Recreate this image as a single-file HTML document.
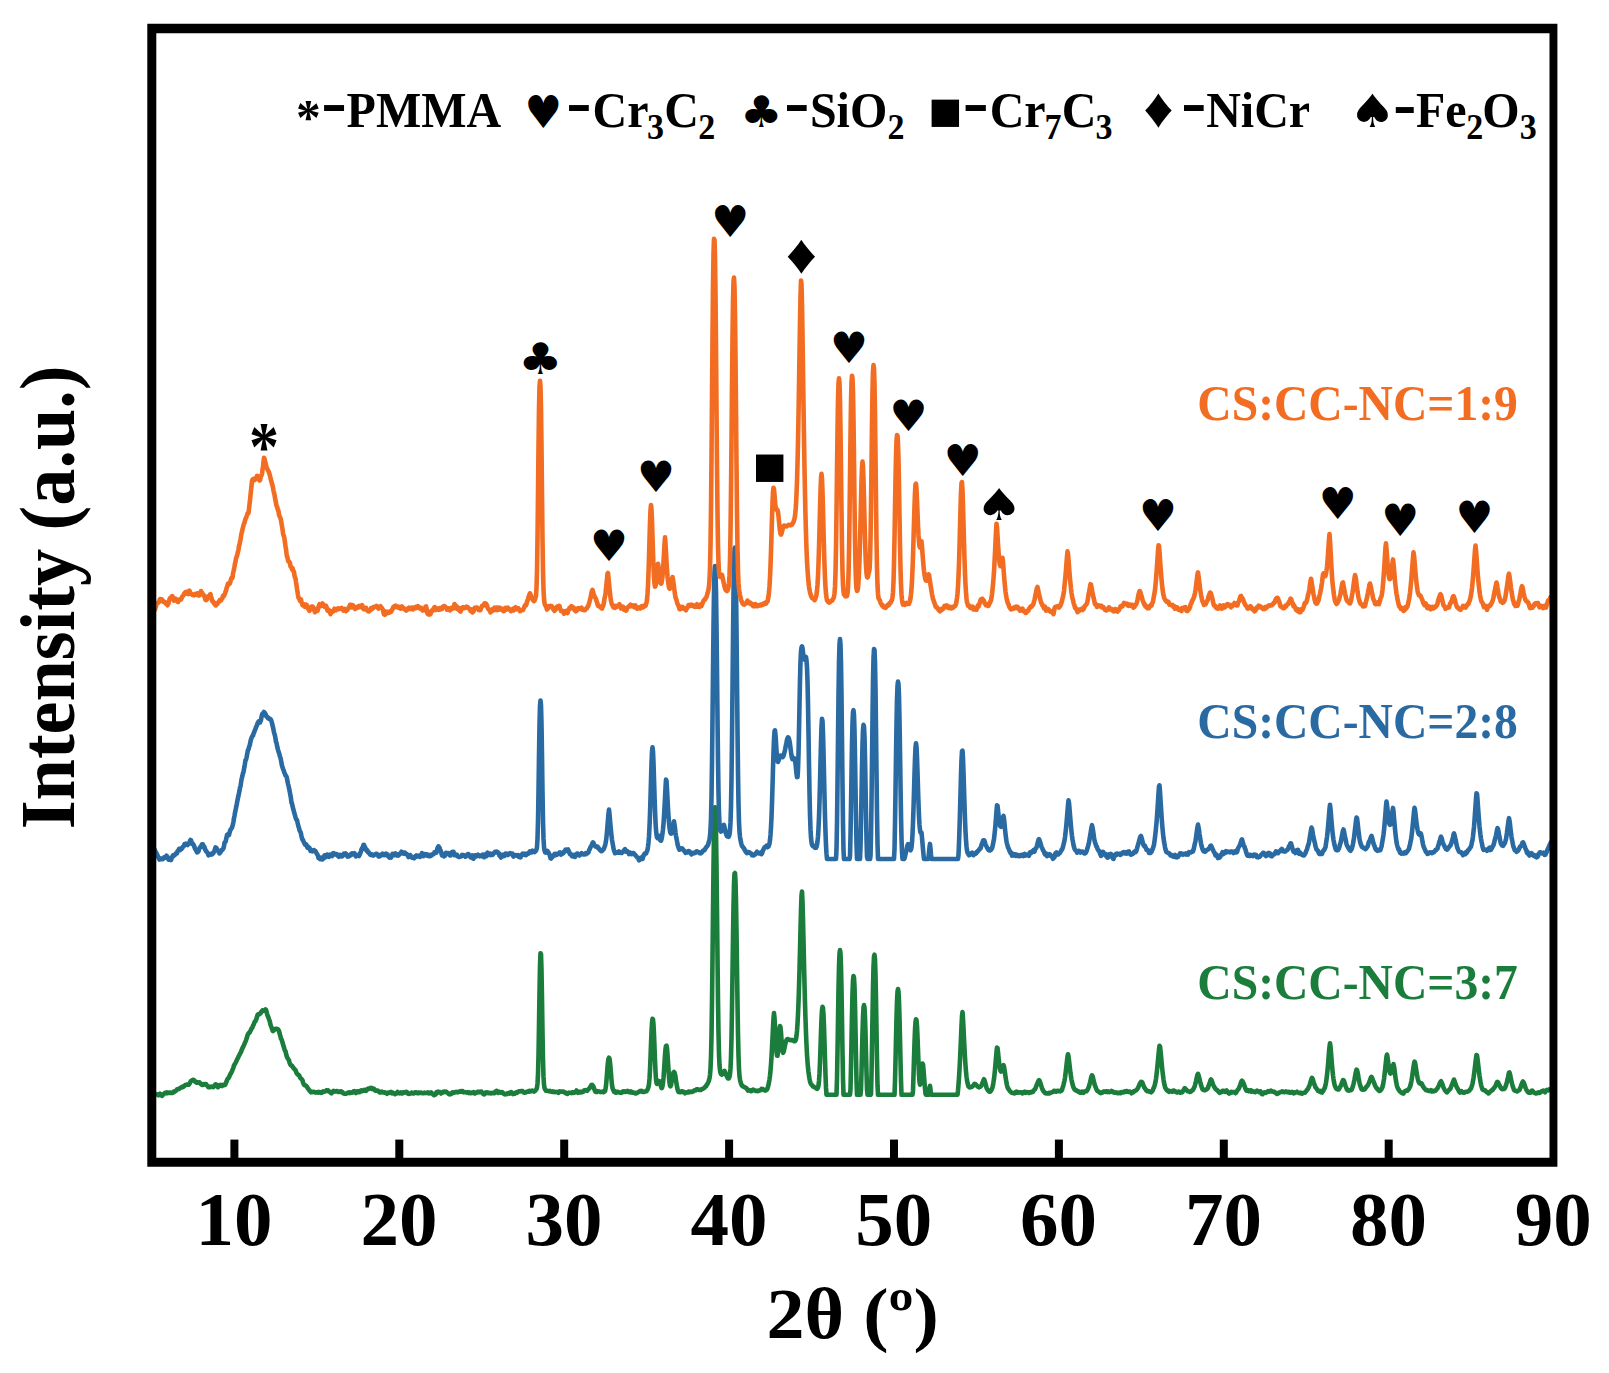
<!DOCTYPE html>
<html lang="en"><head><meta charset="utf-8"><title>XRD patterns</title>
<style>html,body{margin:0;padding:0;background:#fff}svg{display:block}text{font-family:"Liberation Serif","DejaVu Serif",serif;font-weight:bold}.dj{font-family:"DejaVu Sans",sans-serif;font-weight:normal}</style></head><body>
<svg width="1609" height="1373" viewBox="0 0 1609 1373">
<rect width="1609" height="1373" fill="#fff"/>
<path d="M152.0,1093.1 152.5,1092.9 153.0,1092.6 153.5,1092.9 154.0,1092.9 154.5,1093.4 155.0,1093.6 155.5,1094.2 156.0,1094.1 156.5,1094.3 157.0,1094.5 157.5,1094.6 158.0,1094.6 158.5,1095.2 159.0,1094.2 159.5,1094.4 160.0,1093.8 160.5,1094.6 161.0,1095.0 161.5,1095.1 162.0,1095.8 162.5,1095.4 163.0,1094.6 163.5,1094.4 164.0,1093.7 164.5,1093.6 165.0,1092.9 165.5,1092.9 166.0,1092.9 166.5,1092.5 167.0,1093.2 167.5,1092.8 168.0,1092.6 168.5,1092.9 169.0,1092.8 169.5,1092.5 170.0,1092.9 170.5,1092.5 171.0,1092.5 171.5,1092.9 172.0,1093.0 172.5,1092.6 173.0,1092.7 173.5,1092.0 174.0,1091.5 174.5,1091.4 175.0,1091.6 175.5,1090.8 176.0,1090.6 176.5,1090.2 177.0,1089.4 177.5,1089.4 178.0,1089.2 178.5,1088.8 179.0,1088.9 179.5,1088.5 180.0,1088.1 180.5,1087.9 181.0,1087.4 181.5,1087.1 182.0,1087.4 182.5,1086.6 183.0,1086.7 183.5,1086.9 184.0,1086.1 184.5,1085.9 185.0,1085.3 185.5,1085.0 186.0,1084.8 186.5,1084.6 187.0,1084.8 187.5,1084.6 188.0,1084.7 188.5,1084.8 189.0,1084.3 189.5,1083.7 190.0,1082.7 190.5,1081.6 191.0,1081.0 191.5,1080.7 192.0,1080.3 192.5,1080.2 193.0,1079.9 193.5,1079.7 194.0,1080.1 194.5,1080.7 195.0,1081.6 195.5,1081.9 196.0,1082.4 196.5,1082.6 197.0,1082.1 197.5,1082.6 198.0,1082.3 198.5,1082.6 199.0,1082.6 199.5,1082.3 200.0,1083.0 200.5,1083.6 201.0,1084.2 201.5,1084.7 202.0,1084.9 202.5,1084.4 203.0,1084.1 203.5,1084.9 204.0,1084.5 204.5,1084.2 205.0,1084.5 205.5,1084.0 206.0,1084.0 206.5,1084.8 207.0,1085.3 207.5,1086.1 208.0,1086.7 208.5,1087.1 209.0,1086.7 209.5,1087.2 210.0,1086.7 210.5,1086.7 211.0,1086.9 211.5,1086.5 212.0,1086.8 212.5,1087.0 213.0,1086.6 213.5,1087.0 214.0,1086.4 214.5,1085.6 215.0,1084.9 215.5,1084.3 216.0,1084.4 216.5,1084.7 217.0,1085.6 217.5,1086.4 218.0,1087.2 218.5,1086.8 219.0,1085.9 219.5,1085.6 220.0,1085.0 220.5,1084.9 221.0,1085.7 221.5,1085.8 222.0,1086.0 222.5,1085.4 223.0,1084.9 223.5,1085.0 224.0,1085.2 224.5,1085.1 225.0,1084.9 225.5,1084.2 226.0,1082.9 226.5,1081.4 227.0,1080.4 227.5,1079.2 228.0,1078.2 228.5,1078.1 229.0,1077.2 229.5,1076.1 230.0,1075.0 230.5,1073.7 231.0,1073.3 231.5,1072.0 232.0,1071.3 232.5,1069.7 233.0,1068.6 233.5,1067.3 234.0,1065.3 234.5,1064.7 235.0,1063.7 235.5,1062.9 236.0,1062.0 236.5,1060.8 237.0,1059.6 237.5,1058.7 238.0,1058.0 238.5,1056.5 239.0,1055.9 239.5,1054.7 240.0,1053.7 240.5,1052.9 241.0,1051.9 241.5,1050.4 242.0,1049.4 242.5,1048.2 243.0,1046.8 243.5,1046.3 244.0,1044.9 244.5,1044.0 245.0,1042.6 245.5,1041.5 246.0,1040.3 246.5,1038.7 247.0,1037.4 247.5,1035.3 248.0,1034.1 248.5,1033.6 249.0,1032.8 249.5,1032.8 250.0,1031.7 250.5,1030.7 251.0,1029.6 251.5,1028.6 252.0,1028.1 252.5,1027.2 253.0,1025.6 253.5,1024.9 254.0,1023.6 254.5,1022.3 255.0,1021.2 255.5,1021.1 256.0,1019.9 256.5,1018.6 257.0,1017.0 257.5,1015.2 258.0,1014.3 258.5,1014.1 259.0,1014.4 259.5,1014.2 260.0,1013.9 260.5,1013.3 261.0,1012.5 261.5,1011.5 262.0,1011.3 262.5,1010.5 263.0,1010.9 263.5,1010.5 264.0,1010.4 264.5,1010.1 265.0,1009.8 265.5,1009.4 266.0,1009.9 266.5,1011.5 267.0,1013.6 267.5,1015.3 268.0,1016.6 268.5,1017.6 269.0,1019.5 269.5,1020.4 270.0,1022.3 270.5,1024.7 271.0,1026.1 271.5,1027.3 272.0,1028.7 272.5,1030.5 273.0,1031.0 273.5,1030.4 274.0,1030.2 274.5,1029.8 275.0,1029.0 275.5,1028.9 276.0,1028.9 276.5,1028.8 277.0,1028.9 277.5,1029.2 278.0,1029.3 278.5,1030.3 279.0,1030.8 279.5,1033.2 280.0,1034.9 280.5,1036.5 281.0,1038.6 281.5,1039.3 282.0,1040.8 282.5,1042.5 283.0,1044.3 283.5,1045.9 284.0,1047.8 284.5,1049.3 285.0,1050.6 285.5,1051.2 286.0,1053.4 286.5,1055.5 287.0,1057.1 287.5,1058.0 288.0,1058.8 288.5,1059.5 289.0,1060.4 289.5,1062.4 290.0,1063.8 290.5,1064.7 291.0,1065.5 291.5,1065.5 292.0,1065.8 292.5,1066.6 293.0,1067.2 293.5,1068.2 294.0,1068.5 294.5,1069.3 295.0,1069.7 295.5,1070.2 296.0,1071.5 296.5,1072.9 297.0,1073.6 297.5,1074.5 298.0,1074.6 298.5,1074.7 299.0,1075.3 299.5,1076.0 300.0,1077.3 300.5,1078.1 301.0,1078.6 301.5,1078.9 302.0,1079.5 302.5,1080.4 303.0,1082.3 303.5,1083.7 304.0,1084.5 304.5,1085.3 305.0,1085.3 305.5,1085.5 306.0,1085.7 306.5,1086.3 307.0,1086.6 307.5,1087.9 308.0,1088.6 308.5,1089.0 309.0,1089.8 309.5,1090.9 310.0,1090.8 310.5,1091.8 311.0,1092.4 311.5,1092.1 312.0,1092.2 312.5,1092.1 313.0,1091.8 313.5,1091.7 314.0,1091.8 314.5,1092.2 315.0,1092.4 315.5,1092.6 316.0,1092.5 316.5,1092.2 317.0,1092.4 317.5,1092.0 318.0,1092.4 318.5,1092.6 319.0,1092.0 319.5,1092.3 320.0,1092.3 320.5,1092.2 321.0,1092.8 321.5,1092.3 322.0,1092.6 322.5,1092.0 323.0,1091.5 323.5,1091.9 324.0,1091.7 324.5,1091.6 325.0,1091.4 325.5,1091.3 326.0,1091.0 326.5,1090.3 327.0,1090.2 327.5,1090.6 328.0,1090.4 328.5,1091.2 329.0,1091.5 329.5,1091.6 330.0,1092.0 330.5,1092.7 331.0,1092.8 331.5,1093.3 332.0,1092.5 332.5,1092.0 333.0,1091.3 333.5,1090.8 334.0,1091.2 334.5,1091.5 335.0,1091.6 335.5,1091.3 336.0,1091.4 336.5,1091.0 337.0,1091.0 337.5,1091.3 338.0,1091.8 338.5,1092.0 339.0,1092.0 339.5,1091.9 340.0,1092.0 340.5,1091.2 341.0,1091.2 341.5,1091.7 342.0,1091.9 342.5,1092.1 343.0,1093.1 343.5,1093.1 344.0,1093.4 344.5,1093.7 345.0,1093.8 345.5,1093.8 346.0,1093.6 346.5,1093.6 347.0,1093.3 347.5,1092.8 348.0,1092.7 348.5,1092.9 349.0,1092.3 349.5,1092.4 350.0,1093.0 350.5,1092.4 351.0,1092.7 351.5,1092.8 352.0,1092.7 352.5,1092.5 353.0,1092.0 353.5,1091.4 354.0,1091.5 354.5,1091.2 355.0,1091.8 355.5,1091.9 356.0,1093.0 356.5,1092.6 357.0,1092.0 357.5,1091.3 358.0,1091.2 358.5,1091.2 359.0,1091.6 359.5,1092.2 360.0,1091.9 360.5,1090.7 361.0,1090.4 361.5,1090.4 362.0,1090.5 362.5,1091.0 363.0,1090.6 363.5,1090.7 364.0,1090.0 364.5,1089.8 365.0,1090.6 365.5,1090.5 366.0,1090.8 366.5,1090.3 367.0,1089.7 367.5,1088.9 368.0,1088.6 368.5,1088.9 369.0,1088.5 369.5,1088.6 370.0,1088.1 370.5,1088.0 371.0,1087.9 371.5,1088.0 372.0,1089.0 372.5,1088.3 373.0,1088.7 373.5,1088.9 374.0,1088.8 374.5,1089.8 375.0,1090.5 375.5,1090.1 376.0,1090.6 376.5,1090.6 377.0,1090.7 377.5,1090.5 378.0,1090.8 378.5,1091.3 379.0,1091.7 379.5,1092.4 380.0,1092.5 380.5,1092.5 381.0,1092.0 381.5,1091.7 382.0,1092.2 382.5,1091.9 383.0,1092.2 383.5,1092.5 384.0,1092.6 384.5,1092.4 385.0,1092.4 385.5,1092.6 386.0,1093.1 386.5,1093.1 387.0,1093.7 387.5,1092.9 388.0,1092.5 388.5,1092.6 389.0,1093.0 389.5,1092.7 390.0,1092.4 390.5,1092.2 391.0,1091.9 391.5,1092.3 392.0,1093.4 392.5,1092.5 393.0,1093.1 393.5,1093.2 394.0,1093.3 394.5,1093.7 395.0,1094.1 395.5,1093.9 396.0,1093.4 396.5,1093.5 397.0,1093.3 397.5,1092.0 398.0,1092.8 398.5,1092.6 399.0,1093.1 399.5,1093.4 400.0,1093.2 400.5,1093.1 401.0,1092.5 401.5,1093.3 402.0,1093.5 402.5,1093.3 403.0,1092.8 403.5,1092.2 404.0,1092.2 404.5,1092.6 405.0,1092.4 405.5,1092.3 406.0,1091.9 406.5,1091.9 407.0,1092.1 407.5,1092.7 408.0,1093.7 408.5,1093.7 409.0,1093.9 409.5,1093.9 410.0,1093.7 410.5,1093.3 411.0,1093.1 411.5,1092.6 412.0,1092.7 412.5,1093.3 413.0,1093.3 413.5,1093.5 414.0,1093.3 414.5,1092.6 415.0,1092.2 415.5,1092.2 416.0,1092.3 416.5,1092.7 417.0,1092.9 417.5,1093.2 418.0,1093.3 418.5,1092.7 419.0,1093.1 419.5,1092.6 420.0,1092.5 420.5,1092.9 421.0,1092.6 421.5,1092.7 422.0,1093.1 422.5,1093.2 423.0,1093.3 423.5,1093.2 424.0,1093.2 424.5,1092.7 425.0,1093.0 425.5,1093.1 426.0,1093.0 426.5,1092.9 427.0,1092.7 427.5,1092.4 428.0,1093.0 428.5,1093.3 429.0,1093.4 429.5,1093.3 430.0,1092.7 430.5,1092.5 431.0,1092.4 431.5,1092.6 432.0,1093.6 432.5,1093.9 433.0,1094.4 433.5,1094.8 434.0,1095.2 434.5,1094.9 435.0,1094.3 435.5,1094.4 436.0,1094.0 436.5,1092.2 437.0,1092.5 437.5,1091.9 438.0,1091.6 438.5,1092.2 439.0,1091.8 439.5,1092.0 440.0,1092.6 440.5,1092.6 441.0,1093.5 441.5,1092.9 442.0,1092.9 442.5,1092.6 443.0,1091.9 443.5,1092.3 444.0,1092.0 444.5,1091.6 445.0,1091.5 445.5,1091.8 446.0,1092.0 446.5,1091.9 447.0,1092.5 447.5,1092.9 448.0,1093.0 448.5,1093.8 449.0,1094.1 449.5,1094.3 450.0,1094.4 450.5,1094.1 451.0,1094.0 451.5,1093.7 452.0,1092.7 452.5,1092.3 453.0,1092.3 453.5,1092.9 454.0,1092.6 454.5,1092.6 455.0,1092.1 455.5,1092.2 456.0,1091.9 456.5,1092.1 457.0,1092.2 457.5,1092.0 458.0,1092.3 458.5,1091.9 459.0,1091.9 459.5,1091.6 460.0,1091.3 460.5,1091.6 461.0,1091.1 461.5,1091.5 462.0,1091.1 462.5,1091.1 463.0,1092.1 463.5,1092.4 464.0,1092.1 464.5,1092.1 465.0,1092.2 465.5,1092.2 466.0,1092.3 466.5,1092.4 467.0,1092.6 467.5,1092.5 468.0,1092.1 468.5,1092.3 469.0,1093.1 469.5,1092.7 470.0,1093.0 470.5,1093.2 471.0,1092.6 471.5,1092.9 472.0,1092.6 472.5,1092.9 473.0,1092.8 473.5,1092.3 474.0,1093.2 474.5,1092.8 475.0,1093.5 475.5,1093.1 476.0,1092.6 476.5,1092.8 477.0,1092.4 477.5,1091.9 478.0,1091.9 478.5,1091.8 479.0,1092.3 479.5,1091.9 480.0,1091.7 480.5,1091.8 481.0,1091.6 481.5,1091.6 482.0,1092.8 482.5,1093.4 483.0,1093.7 483.5,1094.2 484.0,1094.4 484.5,1094.4 485.0,1093.6 485.5,1092.6 486.0,1092.7 486.5,1092.2 487.0,1092.2 487.5,1092.6 488.0,1093.1 488.5,1092.9 489.0,1093.1 489.5,1093.1 490.0,1092.8 490.5,1093.3 491.0,1093.4 491.5,1093.3 492.0,1093.0 492.5,1092.9 493.0,1092.7 493.5,1092.7 494.0,1093.3 494.5,1093.2 495.0,1092.0 495.5,1091.7 496.0,1091.2 496.5,1090.8 497.0,1090.8 497.5,1092.3 498.0,1092.9 498.5,1091.9 499.0,1091.7 499.5,1091.8 500.0,1091.9 500.5,1092.5 501.0,1092.8 501.5,1092.6 502.0,1092.1 502.5,1092.2 503.0,1093.2 503.5,1093.5 504.0,1093.9 504.5,1094.3 505.0,1093.8 505.5,1094.1 506.0,1094.1 506.5,1094.1 507.0,1093.7 507.5,1093.5 508.0,1093.0 508.5,1093.0 509.0,1092.9 509.5,1093.6 510.0,1093.4 510.5,1092.6 511.0,1092.1 511.5,1092.2 512.0,1092.8 512.5,1093.5 513.0,1094.0 513.5,1093.5 514.0,1093.6 514.5,1093.7 515.0,1093.1 515.5,1092.7 516.0,1092.4 516.5,1092.6 517.0,1092.8 517.5,1092.2 518.0,1091.7 518.5,1091.6 519.0,1091.3 519.5,1091.3 520.0,1091.4 520.5,1091.3 521.0,1091.1 521.5,1091.3 522.0,1091.0 522.5,1091.1 523.0,1091.6 523.5,1092.2 524.0,1092.6 524.5,1092.7 525.0,1092.6 525.5,1092.5 526.0,1092.0 526.5,1091.8 527.0,1091.9 527.5,1091.7 528.0,1091.3 528.5,1091.1 529.0,1091.6 529.5,1090.8 530.0,1091.3 530.5,1091.5 531.0,1091.2 531.5,1090.8 532.0,1090.7 532.5,1090.6 533.0,1090.9 533.5,1091.0 534.0,1091.5 534.5,1091.0 535.0,1091.1 535.5,1090.3 536.0,1089.9 536.5,1089.1 537.0,1087.5 537.5,1083.7 538.0,1074.3 538.5,1055.2 539.0,1025.9 539.5,992.4 540.0,965.6 540.5,953.2 541.0,954.3 541.5,970.0 542.0,998.9 542.5,1032.3 543.0,1059.9 543.5,1076.9 544.0,1084.7 544.5,1087.8 545.0,1089.3 545.5,1089.9 546.0,1090.7 546.5,1090.8 547.0,1090.7 547.5,1090.9 548.0,1091.0 548.5,1091.1 549.0,1091.3 549.5,1091.0 550.0,1090.8 550.5,1091.2 551.0,1091.6 551.5,1091.8 552.0,1091.8 552.5,1091.9 553.0,1091.4 553.5,1091.5 554.0,1091.7 554.5,1092.1 555.0,1092.2 555.5,1092.0 556.0,1092.0 556.5,1091.8 557.0,1092.1 557.5,1092.2 558.0,1092.7 558.5,1092.9 559.0,1091.7 559.5,1091.3 560.0,1091.6 560.5,1091.5 561.0,1091.7 561.5,1091.7 562.0,1091.5 562.5,1091.5 563.0,1091.7 563.5,1091.6 564.0,1092.1 564.5,1092.1 565.0,1092.7 565.5,1092.6 566.0,1093.4 566.5,1093.0 567.0,1093.2 567.5,1093.9 568.0,1093.4 568.5,1093.1 569.0,1092.6 569.5,1092.8 570.0,1092.7 570.5,1092.7 571.0,1092.9 571.5,1093.1 572.0,1092.5 572.5,1092.2 573.0,1092.5 573.5,1092.7 574.0,1092.9 574.5,1092.6 575.0,1092.4 575.5,1091.8 576.0,1091.4 576.5,1090.5 577.0,1091.6 577.5,1092.2 578.0,1092.8 578.5,1092.5 579.0,1092.1 579.5,1092.3 580.0,1091.6 580.5,1091.9 581.0,1092.4 581.5,1091.9 582.0,1092.2 582.5,1092.1 583.0,1091.8 583.5,1091.6 584.0,1090.5 584.5,1090.2 585.0,1090.4 585.5,1090.1 586.0,1090.3 586.5,1090.6 587.0,1090.9 587.5,1090.2 588.0,1089.9 588.5,1089.2 589.0,1088.6 589.5,1088.3 590.0,1087.3 590.5,1086.6 591.0,1085.8 591.5,1085.0 592.0,1084.8 592.5,1085.4 593.0,1085.9 593.5,1086.7 594.0,1088.5 594.5,1089.7 595.0,1091.1 595.5,1091.9 596.0,1091.7 596.5,1092.0 597.0,1091.8 597.5,1091.2 598.0,1091.5 598.5,1091.5 599.0,1091.4 599.5,1091.7 600.0,1091.9 600.5,1092.1 601.0,1092.0 601.5,1091.9 602.0,1092.0 602.5,1091.6 603.0,1091.7 603.5,1092.2 604.0,1091.5 604.5,1091.6 605.0,1091.1 605.5,1089.0 606.0,1085.7 606.5,1080.2 607.0,1073.7 607.5,1067.2 608.0,1061.8 608.5,1058.7 609.0,1057.7 609.5,1058.6 610.0,1062.2 610.5,1067.5 611.0,1074.0 611.5,1080.1 612.0,1084.9 612.5,1088.0 613.0,1089.6 613.5,1090.3 614.0,1091.5 614.5,1091.0 615.0,1092.0 615.5,1092.5 616.0,1092.1 616.5,1092.6 617.0,1091.9 617.5,1091.7 618.0,1091.7 618.5,1092.1 619.0,1092.4 619.5,1092.5 620.0,1092.7 620.5,1092.8 621.0,1092.4 621.5,1092.8 622.0,1092.5 622.5,1091.7 623.0,1091.5 623.5,1091.3 624.0,1091.3 624.5,1091.4 625.0,1091.9 625.5,1091.5 626.0,1091.3 626.5,1091.7 627.0,1091.3 627.5,1090.9 628.0,1091.3 628.5,1091.5 629.0,1092.2 629.5,1092.0 630.0,1092.1 630.5,1092.3 631.0,1091.4 631.5,1091.7 632.0,1092.2 632.5,1092.7 633.0,1092.5 633.5,1092.7 634.0,1092.8 634.5,1092.9 635.0,1092.9 635.5,1093.5 636.0,1093.4 636.5,1093.1 637.0,1093.0 637.5,1092.5 638.0,1092.5 638.5,1091.9 639.0,1091.8 639.5,1091.7 640.0,1091.0 640.5,1090.9 641.0,1091.0 641.5,1090.9 642.0,1091.6 642.5,1091.3 643.0,1092.0 643.5,1092.0 644.0,1092.0 644.5,1091.7 645.0,1091.7 645.5,1091.2 646.0,1091.2 646.5,1091.3 647.0,1090.3 647.5,1089.6 648.0,1088.3 648.5,1086.7 649.0,1084.1 649.5,1078.5 650.0,1069.7 650.5,1057.9 651.0,1044.3 651.5,1032.0 652.0,1022.9 652.5,1018.9 653.0,1019.5 653.5,1024.5 654.0,1034.5 654.5,1047.3 655.0,1060.4 655.5,1071.3 656.0,1079.1 656.5,1082.9 657.0,1083.9 657.5,1083.4 658.0,1082.3 658.5,1081.2 659.0,1081.1 659.5,1081.2 660.0,1082.9 660.5,1084.5 661.0,1086.5 661.5,1088.1 662.0,1087.9 662.5,1085.8 663.0,1083.0 663.5,1077.9 664.0,1071.0 664.5,1063.1 665.0,1055.2 665.5,1049.0 666.0,1045.9 666.5,1045.6 667.0,1048.2 667.5,1054.1 668.0,1061.9 668.5,1070.1 669.0,1077.4 669.5,1082.6 670.0,1085.7 670.5,1086.3 671.0,1085.3 671.5,1082.3 672.0,1079.5 672.5,1076.5 673.0,1074.1 673.5,1072.4 674.0,1072.0 674.5,1072.7 675.0,1074.2 675.5,1077.0 676.0,1080.5 676.5,1083.6 677.0,1086.6 677.5,1088.9 678.0,1091.0 678.5,1091.9 679.0,1091.6 679.5,1092.1 680.0,1091.8 680.5,1091.7 681.0,1092.1 681.5,1091.4 682.0,1091.6 682.5,1091.3 683.0,1091.9 683.5,1091.8 684.0,1092.0 684.5,1092.6 685.0,1093.2 685.5,1092.8 686.0,1092.6 686.5,1092.5 687.0,1092.2 687.5,1092.3 688.0,1092.4 688.5,1091.8 689.0,1092.3 689.5,1091.7 690.0,1091.8 690.5,1091.6 691.0,1091.8 691.5,1092.0 692.0,1091.8 692.5,1091.7 693.0,1091.5 693.5,1090.9 694.0,1090.6 694.5,1090.3 695.0,1090.3 695.5,1090.4 696.0,1090.0 696.5,1089.3 697.0,1089.3 697.5,1089.2 698.0,1089.2 698.5,1089.6 699.0,1090.0 699.5,1089.9 700.0,1089.6 700.5,1090.0 701.0,1089.9 701.5,1089.6 702.0,1089.0 702.5,1088.7 703.0,1088.7 703.5,1088.3 704.0,1088.1 704.5,1087.8 705.0,1087.0 705.5,1086.6 706.0,1086.3 706.5,1085.0 707.0,1084.6 707.5,1083.9 708.0,1082.8 708.5,1081.8 709.0,1080.3 709.5,1078.2 710.0,1074.8 710.5,1068.6 711.0,1056.6 711.5,1035.3 712.0,1002.6 712.5,959.2 713.0,911.2 713.5,866.6 714.0,832.4 714.5,812.6 715.0,807.2 715.5,812.8 716.0,832.1 716.5,865.9 717.0,910.1 717.5,957.6 718.0,1000.4 718.5,1033.0 719.0,1053.9 719.5,1065.0 720.0,1070.2 720.5,1072.8 721.0,1074.0 721.5,1074.4 722.0,1074.7 722.5,1074.2 723.0,1073.4 723.5,1072.3 724.0,1071.5 724.5,1071.0 725.0,1071.9 725.5,1072.9 726.0,1074.2 726.5,1075.6 727.0,1076.7 727.5,1077.7 728.0,1078.5 728.5,1078.5 729.0,1078.0 729.5,1076.9 730.0,1074.1 730.5,1068.4 731.0,1057.1 731.5,1037.5 732.0,1008.8 732.5,973.7 733.0,937.3 733.5,905.9 734.0,884.2 734.5,873.7 735.0,873.0 735.5,881.3 736.0,901.1 736.5,931.1 737.0,967.2 737.5,1003.3 738.0,1034.1 738.5,1055.7 739.0,1068.8 739.5,1076.2 740.0,1079.7 740.5,1081.9 741.0,1083.6 741.5,1084.6 742.0,1085.6 742.5,1086.1 743.0,1086.5 743.5,1086.5 744.0,1086.8 744.5,1087.2 745.0,1087.2 745.5,1087.8 746.0,1087.9 746.5,1088.1 747.0,1089.0 747.5,1089.8 748.0,1090.6 748.5,1090.1 749.0,1090.1 749.5,1090.3 750.0,1090.2 750.5,1090.9 751.0,1091.2 751.5,1091.0 752.0,1090.5 752.5,1090.2 753.0,1089.7 753.5,1089.9 754.0,1089.9 754.5,1090.2 755.0,1090.7 755.5,1090.9 756.0,1090.7 756.5,1090.7 757.0,1090.7 757.5,1091.2 758.0,1091.2 758.5,1090.6 759.0,1090.6 759.5,1090.6 760.0,1090.3 760.5,1090.2 761.0,1089.7 761.5,1088.9 762.0,1089.1 762.5,1089.4 763.0,1089.2 763.5,1089.9 764.0,1089.8 764.5,1090.0 765.0,1090.5 765.5,1090.3 766.0,1090.4 766.5,1089.8 767.0,1089.4 767.5,1088.4 768.0,1086.7 768.5,1084.9 769.0,1082.3 769.5,1079.3 770.0,1075.7 770.5,1070.7 771.0,1064.4 771.5,1056.8 772.0,1047.7 772.5,1037.7 773.0,1027.5 773.5,1018.4 774.0,1013.0 774.5,1018.0 775.0,1026.9 775.5,1036.5 776.0,1045.1 776.5,1051.9 777.0,1055.6 777.5,1055.7 778.0,1051.8 778.5,1044.8 779.0,1036.3 779.5,1029.2 780.0,1026.0 780.5,1027.3 781.0,1032.5 781.5,1039.8 782.0,1046.4 782.5,1050.8 783.0,1052.8 783.5,1052.2 784.0,1050.4 784.5,1047.8 785.0,1045.2 785.5,1043.1 786.0,1041.3 786.5,1040.0 787.0,1039.3 787.5,1039.1 788.0,1039.1 788.5,1039.5 789.0,1039.6 789.5,1039.8 790.0,1040.1 790.5,1040.2 791.0,1040.2 791.5,1040.0 792.0,1039.9 792.5,1040.0 793.0,1040.4 793.5,1040.8 794.0,1041.2 794.5,1041.3 795.0,1041.2 795.5,1040.5 796.0,1039.0 796.5,1035.9 797.0,1031.0 797.5,1024.0 798.0,1014.6 798.5,1002.5 799.0,987.6 799.5,969.8 800.0,950.0 800.5,929.3 801.0,910.1 801.5,895.8 802.0,891.5 802.5,901.8 803.0,919.5 803.5,940.8 804.0,962.9 804.5,984.0 805.0,1002.9 805.5,1019.3 806.0,1033.2 806.5,1044.8 807.0,1054.3 807.5,1061.8 808.0,1067.6 808.5,1072.1 809.0,1075.6 809.5,1078.9 810.0,1081.4 810.5,1083.0 811.0,1084.0 811.5,1084.5 812.0,1085.2 812.5,1085.9 813.0,1086.4 813.5,1086.8 814.0,1086.7 814.5,1087.3 815.0,1087.4 815.5,1087.7 816.0,1088.2 816.5,1088.6 817.0,1088.9 817.5,1088.5 818.0,1087.5 818.5,1085.2 819.0,1080.9 819.5,1073.4 820.0,1062.0 820.5,1047.5 821.0,1032.3 821.5,1018.9 822.0,1010.1 822.5,1006.8 823.0,1008.1 823.5,1014.5 824.0,1026.1 824.5,1042.0 825.0,1059.3 825.5,1075.0 826.0,1087.7 826.5,1094.8 827.0,1094.8 827.5,1094.8 828.0,1094.8 828.5,1094.8 829.0,1094.8 829.5,1094.8 830.0,1094.8 830.5,1094.8 831.0,1094.8 831.5,1094.8 832.0,1094.8 832.5,1094.8 833.0,1094.8 833.5,1094.8 834.0,1094.8 834.5,1094.8 835.0,1094.8 835.5,1094.8 836.0,1094.8 836.5,1094.8 837.0,1078.5 837.5,1051.8 838.0,1020.1 838.5,989.4 839.0,966.3 839.5,953.5 840.0,950.1 840.5,953.4 841.0,966.5 841.5,989.5 842.0,1019.9 842.5,1051.7 843.0,1078.7 843.5,1094.8 844.0,1094.8 844.5,1094.8 845.0,1094.8 845.5,1094.8 846.0,1094.8 846.5,1094.8 847.0,1094.8 847.5,1094.8 848.0,1094.8 848.5,1094.8 849.0,1094.8 849.5,1094.8 850.0,1094.8 850.5,1089.1 851.0,1067.3 851.5,1040.7 852.0,1014.3 852.5,992.9 853.0,980.1 853.5,976.0 854.0,977.6 854.5,986.8 855.0,1004.8 855.5,1029.7 856.0,1056.7 856.5,1080.5 857.0,1094.8 857.5,1094.8 858.0,1094.8 858.5,1094.8 859.0,1094.8 859.5,1094.8 860.0,1094.8 860.5,1094.8 861.0,1089.1 861.5,1072.1 862.0,1052.1 862.5,1032.6 863.0,1017.0 863.5,1007.7 864.0,1005.1 864.5,1007.7 865.0,1017.1 865.5,1032.9 866.0,1052.5 866.5,1072.4 867.0,1089.4 867.5,1094.8 868.0,1094.8 868.5,1094.8 869.0,1094.8 869.5,1094.8 870.0,1094.8 870.5,1094.8 871.0,1094.1 871.5,1074.4 872.0,1046.8 872.5,1015.8 873.0,987.5 873.5,966.9 874.0,956.5 874.5,954.7 875.0,959.6 875.5,974.4 876.0,998.8 876.5,1029.7 877.0,1060.3 877.5,1085.2 878.0,1094.8 878.5,1094.8 879.0,1094.8 879.5,1094.8 880.0,1094.8 880.5,1094.8 881.0,1094.8 881.5,1094.8 882.0,1094.8 882.5,1094.8 883.0,1094.8 883.5,1094.8 884.0,1094.8 884.5,1094.8 885.0,1094.8 885.5,1094.8 886.0,1094.8 886.5,1094.8 887.0,1094.8 887.5,1094.8 888.0,1094.8 888.5,1094.8 889.0,1094.8 889.5,1094.8 890.0,1094.8 890.5,1094.8 891.0,1094.8 891.5,1094.8 892.0,1094.8 892.5,1094.8 893.0,1094.8 893.5,1094.8 894.0,1094.8 894.5,1094.8 895.0,1081.2 895.5,1061.1 896.0,1038.8 896.5,1017.9 897.0,1001.4 897.5,991.9 898.0,989.0 898.5,991.7 899.0,1001.2 899.5,1017.3 900.0,1038.4 900.5,1060.6 901.0,1080.5 901.5,1094.8 902.0,1094.8 902.5,1094.8 903.0,1094.8 903.5,1094.8 904.0,1094.8 904.5,1094.8 905.0,1094.8 905.5,1094.8 906.0,1094.8 906.5,1094.8 907.0,1094.8 907.5,1094.8 908.0,1094.8 908.5,1094.8 909.0,1094.8 909.5,1094.8 910.0,1094.8 910.5,1094.8 911.0,1094.8 911.5,1094.8 912.0,1094.8 912.5,1094.8 913.0,1090.7 913.5,1075.5 914.0,1058.6 914.5,1042.5 915.0,1030.0 915.5,1022.1 916.0,1019.2 916.5,1020.3 917.0,1026.0 917.5,1036.5 918.0,1049.9 918.5,1063.4 919.0,1074.8 919.5,1081.9 920.0,1084.7 920.5,1083.3 921.0,1079.2 921.5,1073.8 922.0,1067.9 922.5,1063.6 923.0,1064.5 923.5,1069.4 924.0,1076.1 924.5,1082.6 925.0,1088.6 925.5,1093.8 926.0,1094.8 926.5,1094.8 927.0,1094.8 927.5,1094.8 928.0,1094.8 928.5,1094.8 929.0,1091.4 929.5,1087.8 930.0,1085.8 930.5,1089.6 931.0,1094.8 931.5,1094.8 932.0,1094.8 932.5,1094.8 933.0,1094.8 933.5,1094.8 934.0,1094.8 934.5,1094.8 935.0,1094.8 935.5,1094.8 936.0,1094.8 936.5,1094.8 937.0,1094.8 937.5,1094.8 938.0,1094.8 938.5,1094.8 939.0,1094.8 939.5,1094.8 940.0,1094.8 940.5,1094.8 941.0,1094.8 941.5,1094.8 942.0,1094.8 942.5,1094.8 943.0,1094.8 943.5,1094.8 944.0,1094.8 944.5,1094.8 945.0,1094.8 945.5,1094.8 946.0,1094.8 946.5,1094.8 947.0,1094.8 947.5,1094.8 948.0,1094.8 948.5,1094.8 949.0,1094.8 949.5,1094.8 950.0,1094.8 950.5,1094.8 951.0,1094.8 951.5,1094.8 952.0,1094.8 952.5,1094.8 953.0,1094.8 953.5,1094.8 954.0,1094.8 954.5,1094.8 955.0,1094.8 955.5,1094.8 956.0,1094.8 956.5,1094.8 957.0,1094.8 957.5,1094.8 958.0,1090.4 958.5,1084.7 959.0,1077.7 959.5,1069.3 960.0,1059.8 960.5,1049.0 961.0,1037.5 961.5,1025.9 962.0,1016.1 962.5,1012.1 963.0,1018.5 963.5,1028.1 964.0,1038.6 964.5,1048.6 965.0,1057.6 965.5,1065.3 966.0,1071.5 966.5,1076.5 967.0,1080.3 967.5,1082.9 968.0,1085.0 968.5,1086.4 969.0,1086.9 969.5,1087.4 970.0,1087.3 970.5,1087.1 971.0,1087.1 971.5,1087.0 972.0,1086.7 972.5,1086.3 973.0,1085.8 973.5,1085.3 974.0,1084.4 974.5,1083.8 975.0,1084.1 975.5,1084.1 976.0,1084.7 976.5,1085.4 977.0,1085.8 977.5,1086.4 978.0,1086.8 978.5,1086.8 979.0,1087.3 979.5,1086.8 980.0,1086.8 980.5,1086.7 981.0,1086.0 981.5,1085.4 982.0,1084.2 982.5,1083.0 983.0,1081.5 983.5,1080.2 984.0,1079.2 984.5,1080.2 985.0,1081.9 985.5,1083.8 986.0,1085.8 986.5,1087.7 987.0,1088.9 987.5,1089.5 988.0,1090.5 988.5,1090.9 989.0,1091.4 989.5,1091.8 990.0,1091.7 990.5,1091.5 991.0,1090.6 991.5,1089.9 992.0,1088.8 992.5,1087.1 993.0,1085.1 993.5,1082.1 994.0,1078.7 994.5,1074.4 995.0,1069.4 995.5,1063.7 996.0,1057.8 996.5,1052.1 997.0,1047.6 997.5,1047.9 998.0,1052.1 998.5,1057.1 999.0,1061.8 999.5,1065.9 1000.0,1068.9 1000.5,1070.9 1001.0,1071.5 1001.5,1071.2 1002.0,1070.0 1002.5,1068.1 1003.0,1066.3 1003.5,1065.1 1004.0,1066.7 1004.5,1069.9 1005.0,1073.2 1005.5,1076.7 1006.0,1079.9 1006.5,1082.8 1007.0,1085.3 1007.5,1087.2 1008.0,1088.5 1008.5,1088.8 1009.0,1089.7 1009.5,1090.5 1010.0,1091.2 1010.5,1091.5 1011.0,1092.2 1011.5,1092.6 1012.0,1092.9 1012.5,1092.8 1013.0,1093.0 1013.5,1093.0 1014.0,1093.0 1014.5,1093.4 1015.0,1092.7 1015.5,1092.0 1016.0,1092.2 1016.5,1091.6 1017.0,1092.7 1017.5,1092.7 1018.0,1092.3 1018.5,1092.4 1019.0,1092.4 1019.5,1092.5 1020.0,1092.2 1020.5,1092.2 1021.0,1092.5 1021.5,1092.7 1022.0,1093.0 1022.5,1093.4 1023.0,1092.8 1023.5,1092.1 1024.0,1092.1 1024.5,1091.7 1025.0,1092.1 1025.5,1092.8 1026.0,1092.3 1026.5,1092.1 1027.0,1092.0 1027.5,1092.3 1028.0,1092.5 1028.5,1092.3 1029.0,1093.0 1029.5,1092.7 1030.0,1092.3 1030.5,1092.0 1031.0,1091.9 1031.5,1092.3 1032.0,1091.8 1032.5,1091.9 1033.0,1092.0 1033.5,1090.7 1034.0,1090.1 1034.5,1089.6 1035.0,1089.2 1035.5,1088.2 1036.0,1086.9 1036.5,1085.5 1037.0,1084.2 1037.5,1083.2 1038.0,1081.7 1038.5,1080.7 1039.0,1080.1 1039.5,1080.6 1040.0,1082.0 1040.5,1083.6 1041.0,1085.0 1041.5,1086.6 1042.0,1088.1 1042.5,1089.4 1043.0,1090.4 1043.5,1091.2 1044.0,1091.7 1044.5,1092.3 1045.0,1093.1 1045.5,1093.1 1046.0,1093.4 1046.5,1093.4 1047.0,1093.2 1047.5,1093.4 1048.0,1093.4 1048.5,1093.5 1049.0,1092.9 1049.5,1093.3 1050.0,1092.7 1050.5,1092.8 1051.0,1092.5 1051.5,1092.4 1052.0,1092.3 1052.5,1092.1 1053.0,1091.8 1053.5,1091.8 1054.0,1090.8 1054.5,1090.8 1055.0,1090.9 1055.5,1091.5 1056.0,1091.7 1056.5,1091.3 1057.0,1091.0 1057.5,1090.8 1058.0,1090.7 1058.5,1091.2 1059.0,1091.2 1059.5,1091.3 1060.0,1090.9 1060.5,1091.3 1061.0,1091.0 1061.5,1090.6 1062.0,1090.0 1062.5,1088.0 1063.0,1086.7 1063.5,1084.8 1064.0,1082.7 1064.5,1080.5 1065.0,1077.6 1065.5,1073.9 1066.0,1069.6 1066.5,1065.2 1067.0,1060.7 1067.5,1056.6 1068.0,1054.3 1068.5,1056.4 1069.0,1060.3 1069.5,1064.8 1070.0,1069.0 1070.5,1073.2 1071.0,1076.5 1071.5,1079.6 1072.0,1082.2 1072.5,1084.1 1073.0,1086.0 1073.5,1087.5 1074.0,1088.1 1074.5,1089.3 1075.0,1089.8 1075.5,1089.8 1076.0,1090.6 1076.5,1090.4 1077.0,1091.1 1077.5,1091.2 1078.0,1091.1 1078.5,1091.8 1079.0,1091.6 1079.5,1092.0 1080.0,1092.6 1080.5,1092.8 1081.0,1092.8 1081.5,1091.9 1082.0,1092.4 1082.5,1091.7 1083.0,1092.3 1083.5,1092.7 1084.0,1092.1 1084.5,1091.5 1085.0,1091.5 1085.5,1091.1 1086.0,1091.1 1086.5,1091.2 1087.0,1090.6 1087.5,1089.7 1088.0,1089.0 1088.5,1087.6 1089.0,1086.3 1089.5,1084.4 1090.0,1082.6 1090.5,1080.4 1091.0,1078.2 1091.5,1076.4 1092.0,1075.3 1092.5,1075.9 1093.0,1077.7 1093.5,1079.9 1094.0,1082.1 1094.5,1084.2 1095.0,1085.7 1095.5,1086.8 1096.0,1088.3 1096.5,1089.4 1097.0,1090.5 1097.5,1091.1 1098.0,1091.2 1098.5,1091.7 1099.0,1091.9 1099.5,1092.4 1100.0,1092.8 1100.5,1093.1 1101.0,1092.7 1101.5,1092.6 1102.0,1092.7 1102.5,1092.5 1103.0,1091.8 1103.5,1091.8 1104.0,1091.4 1104.5,1091.5 1105.0,1091.4 1105.5,1091.5 1106.0,1091.9 1106.5,1091.2 1107.0,1091.2 1107.5,1091.3 1108.0,1092.1 1108.5,1091.7 1109.0,1092.0 1109.5,1092.2 1110.0,1091.7 1110.5,1091.6 1111.0,1091.7 1111.5,1091.0 1112.0,1091.5 1112.5,1091.4 1113.0,1092.2 1113.5,1092.4 1114.0,1092.2 1114.5,1092.4 1115.0,1092.7 1115.5,1092.6 1116.0,1092.4 1116.5,1092.5 1117.0,1092.5 1117.5,1093.3 1118.0,1093.2 1118.5,1093.0 1119.0,1092.8 1119.5,1092.7 1120.0,1092.4 1120.5,1093.2 1121.0,1092.8 1121.5,1092.1 1122.0,1092.3 1122.5,1092.3 1123.0,1092.5 1123.5,1092.2 1124.0,1091.6 1124.5,1092.0 1125.0,1091.4 1125.5,1091.8 1126.0,1091.8 1126.5,1091.1 1127.0,1091.0 1127.5,1091.5 1128.0,1091.8 1128.5,1091.6 1129.0,1092.0 1129.5,1091.6 1130.0,1091.6 1130.5,1092.3 1131.0,1092.6 1131.5,1093.2 1132.0,1092.7 1132.5,1092.3 1133.0,1092.5 1133.5,1091.4 1134.0,1091.1 1134.5,1091.3 1135.0,1090.8 1135.5,1090.6 1136.0,1090.4 1136.5,1090.0 1137.0,1089.4 1137.5,1088.6 1138.0,1088.1 1138.5,1086.7 1139.0,1085.7 1139.5,1084.3 1140.0,1083.4 1140.5,1082.8 1141.0,1081.9 1141.5,1081.9 1142.0,1082.0 1142.5,1082.9 1143.0,1084.5 1143.5,1085.7 1144.0,1086.6 1144.5,1088.0 1145.0,1088.4 1145.5,1089.2 1146.0,1090.0 1146.5,1090.5 1147.0,1091.1 1147.5,1090.9 1148.0,1091.0 1148.5,1091.1 1149.0,1091.2 1149.5,1091.6 1150.0,1091.5 1150.5,1092.1 1151.0,1092.4 1151.5,1091.9 1152.0,1091.4 1152.5,1090.7 1153.0,1089.9 1153.5,1088.2 1154.0,1087.3 1154.5,1086.0 1155.0,1084.0 1155.5,1081.9 1156.0,1078.8 1156.5,1074.8 1157.0,1070.5 1157.5,1065.3 1158.0,1060.1 1158.5,1054.7 1159.0,1049.6 1159.5,1045.9 1160.0,1046.5 1160.5,1050.6 1161.0,1055.7 1161.5,1061.3 1162.0,1066.6 1162.5,1071.3 1163.0,1075.5 1163.5,1079.3 1164.0,1082.5 1164.5,1084.9 1165.0,1087.0 1165.5,1088.2 1166.0,1088.9 1166.5,1089.8 1167.0,1090.1 1167.5,1090.8 1168.0,1091.0 1168.5,1090.7 1169.0,1091.8 1169.5,1091.6 1170.0,1091.5 1170.5,1091.4 1171.0,1091.1 1171.5,1091.4 1172.0,1091.7 1172.5,1090.9 1173.0,1090.6 1173.5,1090.6 1174.0,1090.6 1174.5,1091.3 1175.0,1091.5 1175.5,1091.8 1176.0,1091.6 1176.5,1092.0 1177.0,1092.5 1177.5,1092.4 1178.0,1092.0 1178.5,1091.6 1179.0,1092.1 1179.5,1091.8 1180.0,1092.3 1180.5,1092.7 1181.0,1092.5 1181.5,1092.2 1182.0,1092.4 1182.5,1091.9 1183.0,1090.9 1183.5,1090.2 1184.0,1089.5 1184.5,1088.3 1185.0,1088.3 1185.5,1089.3 1186.0,1089.4 1186.5,1089.8 1187.0,1090.5 1187.5,1091.2 1188.0,1091.1 1188.5,1091.4 1189.0,1091.6 1189.5,1091.9 1190.0,1091.7 1190.5,1091.9 1191.0,1091.4 1191.5,1090.9 1192.0,1090.5 1192.5,1090.3 1193.0,1089.7 1193.5,1088.9 1194.0,1087.8 1194.5,1086.8 1195.0,1085.1 1195.5,1083.2 1196.0,1081.2 1196.5,1078.7 1197.0,1076.6 1197.5,1074.7 1198.0,1073.8 1198.5,1075.1 1199.0,1076.8 1199.5,1078.8 1200.0,1081.4 1200.5,1082.9 1201.0,1085.0 1201.5,1086.7 1202.0,1087.9 1202.5,1089.3 1203.0,1089.9 1203.5,1089.9 1204.0,1090.1 1204.5,1090.0 1205.0,1090.2 1205.5,1089.6 1206.0,1089.6 1206.5,1089.5 1207.0,1088.9 1207.5,1088.8 1208.0,1087.8 1208.5,1085.9 1209.0,1085.1 1209.5,1083.3 1210.0,1081.9 1210.5,1080.2 1211.0,1079.4 1211.5,1080.1 1212.0,1081.4 1212.5,1083.1 1213.0,1084.4 1213.5,1085.5 1214.0,1086.4 1214.5,1087.3 1215.0,1088.0 1215.5,1088.8 1216.0,1089.3 1216.5,1089.8 1217.0,1090.0 1217.5,1090.4 1218.0,1091.1 1218.5,1091.9 1219.0,1092.1 1219.5,1092.9 1220.0,1092.7 1220.5,1092.2 1221.0,1092.4 1221.5,1092.1 1222.0,1091.6 1222.5,1090.9 1223.0,1090.7 1223.5,1090.7 1224.0,1091.6 1224.5,1091.7 1225.0,1091.9 1225.5,1091.1 1226.0,1090.7 1226.5,1090.4 1227.0,1091.0 1227.5,1092.1 1228.0,1092.4 1228.5,1093.1 1229.0,1093.5 1229.5,1093.0 1230.0,1093.2 1230.5,1092.3 1231.0,1091.8 1231.5,1091.9 1232.0,1092.0 1232.5,1092.4 1233.0,1092.1 1233.5,1092.3 1234.0,1092.0 1234.5,1092.3 1235.0,1092.7 1235.5,1093.2 1236.0,1092.7 1236.5,1091.8 1237.0,1090.9 1237.5,1090.1 1238.0,1089.6 1238.5,1089.1 1239.0,1088.2 1239.5,1087.0 1240.0,1085.6 1240.5,1084.0 1241.0,1082.7 1241.5,1081.3 1242.0,1080.7 1242.5,1081.3 1243.0,1082.3 1243.5,1083.3 1244.0,1084.4 1244.5,1085.9 1245.0,1087.5 1245.5,1088.7 1246.0,1090.0 1246.5,1090.7 1247.0,1090.6 1247.5,1090.9 1248.0,1090.5 1248.5,1091.1 1249.0,1090.7 1249.5,1091.1 1250.0,1090.9 1250.5,1090.3 1251.0,1090.3 1251.5,1091.6 1252.0,1091.3 1252.5,1091.5 1253.0,1091.6 1253.5,1091.3 1254.0,1091.7 1254.5,1092.0 1255.0,1092.2 1255.5,1091.6 1256.0,1091.7 1256.5,1091.2 1257.0,1090.7 1257.5,1091.2 1258.0,1091.1 1258.5,1091.9 1259.0,1092.1 1259.5,1092.0 1260.0,1092.2 1260.5,1091.3 1261.0,1092.2 1261.5,1093.7 1262.0,1094.1 1262.5,1094.2 1263.0,1093.6 1263.5,1093.4 1264.0,1093.1 1264.5,1092.4 1265.0,1092.6 1265.5,1092.4 1266.0,1092.9 1266.5,1092.3 1267.0,1091.9 1267.5,1091.6 1268.0,1091.1 1268.5,1091.3 1269.0,1091.6 1269.5,1091.6 1270.0,1091.1 1270.5,1090.8 1271.0,1090.6 1271.5,1091.2 1272.0,1091.5 1272.5,1091.4 1273.0,1091.7 1273.5,1091.9 1274.0,1091.6 1274.5,1092.0 1275.0,1092.6 1275.5,1092.6 1276.0,1093.2 1276.5,1093.5 1277.0,1093.9 1277.5,1093.3 1278.0,1093.5 1278.5,1093.0 1279.0,1092.5 1279.5,1092.6 1280.0,1092.4 1280.5,1092.2 1281.0,1092.1 1281.5,1092.0 1282.0,1091.5 1282.5,1091.9 1283.0,1091.6 1283.5,1091.7 1284.0,1092.2 1284.5,1092.0 1285.0,1092.1 1285.5,1092.0 1286.0,1091.4 1286.5,1091.7 1287.0,1092.1 1287.5,1092.2 1288.0,1092.1 1288.5,1092.3 1289.0,1091.9 1289.5,1092.6 1290.0,1092.8 1290.5,1092.7 1291.0,1092.3 1291.5,1092.1 1292.0,1091.9 1292.5,1092.3 1293.0,1092.5 1293.5,1093.3 1294.0,1093.1 1294.5,1092.3 1295.0,1092.9 1295.5,1092.7 1296.0,1092.2 1296.5,1092.3 1297.0,1091.8 1297.5,1092.3 1298.0,1092.4 1298.5,1092.8 1299.0,1092.9 1299.5,1092.9 1300.0,1093.1 1300.5,1092.7 1301.0,1093.5 1301.5,1093.3 1302.0,1093.6 1302.5,1093.2 1303.0,1093.1 1303.5,1092.8 1304.0,1092.8 1304.5,1092.6 1305.0,1092.6 1305.5,1091.9 1306.0,1091.3 1306.5,1090.9 1307.0,1089.8 1307.5,1089.3 1308.0,1088.9 1308.5,1087.8 1309.0,1086.5 1309.5,1085.3 1310.0,1083.9 1310.5,1082.0 1311.0,1080.4 1311.5,1078.9 1312.0,1077.9 1312.5,1078.6 1313.0,1079.9 1313.5,1081.7 1314.0,1083.2 1314.5,1084.7 1315.0,1086.1 1315.5,1087.6 1316.0,1087.8 1316.5,1088.5 1317.0,1089.3 1317.5,1089.6 1318.0,1090.8 1318.5,1090.9 1319.0,1091.4 1319.5,1091.1 1320.0,1091.1 1320.5,1092.0 1321.0,1091.1 1321.5,1092.2 1322.0,1092.5 1322.5,1091.6 1323.0,1091.4 1323.5,1090.2 1324.0,1089.1 1324.5,1088.6 1325.0,1087.1 1325.5,1085.1 1326.0,1082.7 1326.5,1079.2 1327.0,1075.1 1327.5,1070.3 1328.0,1064.9 1328.5,1058.7 1329.0,1052.3 1329.5,1046.8 1330.0,1043.4 1330.5,1046.7 1331.0,1052.5 1331.5,1058.9 1332.0,1065.1 1332.5,1070.6 1333.0,1075.2 1333.5,1079.0 1334.0,1082.1 1334.5,1084.3 1335.0,1086.2 1335.5,1087.1 1336.0,1088.3 1336.5,1088.7 1337.0,1089.3 1337.5,1089.3 1338.0,1089.5 1338.5,1089.5 1339.0,1089.0 1339.5,1088.1 1340.0,1087.2 1340.5,1086.2 1341.0,1085.2 1341.5,1083.8 1342.0,1082.6 1342.5,1081.2 1343.0,1080.1 1343.5,1080.2 1344.0,1081.0 1344.5,1082.7 1345.0,1084.3 1345.5,1085.9 1346.0,1087.3 1346.5,1088.3 1347.0,1089.5 1347.5,1090.2 1348.0,1090.2 1348.5,1090.6 1349.0,1090.7 1349.5,1090.2 1350.0,1090.3 1350.5,1090.3 1351.0,1090.1 1351.5,1089.9 1352.0,1088.6 1352.5,1087.5 1353.0,1086.0 1353.5,1084.0 1354.0,1081.7 1354.5,1079.4 1355.0,1076.6 1355.5,1073.8 1356.0,1071.6 1356.5,1069.7 1357.0,1070.0 1357.5,1071.8 1358.0,1074.5 1358.5,1077.5 1359.0,1080.1 1359.5,1082.7 1360.0,1084.8 1360.5,1086.1 1361.0,1087.9 1361.5,1089.0 1362.0,1089.6 1362.5,1089.7 1363.0,1089.7 1363.5,1089.4 1364.0,1089.5 1364.5,1089.4 1365.0,1089.0 1365.5,1087.8 1366.0,1087.3 1366.5,1086.6 1367.0,1086.2 1367.5,1085.9 1368.0,1084.7 1368.5,1083.9 1369.0,1082.7 1369.5,1081.4 1370.0,1080.4 1370.5,1078.7 1371.0,1077.5 1371.5,1077.0 1372.0,1077.8 1372.5,1079.0 1373.0,1080.5 1373.5,1081.6 1374.0,1082.5 1374.5,1084.2 1375.0,1085.4 1375.5,1086.4 1376.0,1087.2 1376.5,1088.0 1377.0,1088.5 1377.5,1089.0 1378.0,1089.8 1378.5,1090.4 1379.0,1090.5 1379.5,1091.0 1380.0,1090.8 1380.5,1090.4 1381.0,1089.9 1381.5,1088.9 1382.0,1088.2 1382.5,1086.9 1383.0,1084.9 1383.5,1082.1 1384.0,1079.0 1384.5,1075.0 1385.0,1070.8 1385.5,1065.8 1386.0,1060.9 1386.5,1056.5 1387.0,1054.5 1387.5,1057.1 1388.0,1060.9 1388.5,1064.9 1389.0,1068.7 1389.5,1071.3 1390.0,1073.0 1390.5,1073.5 1391.0,1073.1 1391.5,1072.0 1392.0,1070.1 1392.5,1067.6 1393.0,1065.3 1393.5,1064.2 1394.0,1066.2 1394.5,1069.7 1395.0,1073.7 1395.5,1077.6 1396.0,1081.0 1396.5,1083.6 1397.0,1086.0 1397.5,1087.4 1398.0,1088.6 1398.5,1089.5 1399.0,1090.0 1399.5,1090.9 1400.0,1091.5 1400.5,1091.9 1401.0,1092.2 1401.5,1092.6 1402.0,1093.1 1402.5,1093.1 1403.0,1092.9 1403.5,1093.5 1404.0,1092.6 1404.5,1091.9 1405.0,1091.2 1405.5,1090.9 1406.0,1090.7 1406.5,1090.5 1407.0,1090.7 1407.5,1090.7 1408.0,1089.9 1408.5,1089.3 1409.0,1088.8 1409.5,1087.8 1410.0,1086.8 1410.5,1085.2 1411.0,1083.1 1411.5,1080.6 1412.0,1077.5 1412.5,1074.2 1413.0,1070.6 1413.5,1067.0 1414.0,1063.8 1414.5,1061.7 1415.0,1062.4 1415.5,1065.1 1416.0,1068.5 1416.5,1071.6 1417.0,1074.7 1417.5,1077.4 1418.0,1079.6 1418.5,1081.3 1419.0,1082.6 1419.5,1083.1 1420.0,1083.6 1420.5,1083.5 1421.0,1083.4 1421.5,1083.4 1422.0,1084.0 1422.5,1085.4 1423.0,1086.5 1423.5,1086.9 1424.0,1088.0 1424.5,1088.4 1425.0,1089.0 1425.5,1089.7 1426.0,1090.1 1426.5,1090.2 1427.0,1090.4 1427.5,1090.1 1428.0,1090.7 1428.5,1090.9 1429.0,1090.9 1429.5,1090.9 1430.0,1090.5 1430.5,1090.8 1431.0,1090.2 1431.5,1090.4 1432.0,1091.5 1432.5,1091.1 1433.0,1091.4 1433.5,1091.3 1434.0,1091.3 1434.5,1090.8 1435.0,1090.4 1435.5,1090.6 1436.0,1090.2 1436.5,1089.5 1437.0,1088.8 1437.5,1088.2 1438.0,1087.4 1438.5,1086.3 1439.0,1085.3 1439.5,1083.8 1440.0,1082.9 1440.5,1081.7 1441.0,1081.3 1441.5,1082.1 1442.0,1083.3 1442.5,1084.5 1443.0,1086.0 1443.5,1087.3 1444.0,1088.5 1444.5,1089.5 1445.0,1090.4 1445.5,1091.0 1446.0,1091.1 1446.5,1092.1 1447.0,1092.3 1447.5,1091.6 1448.0,1090.9 1448.5,1090.7 1449.0,1089.8 1449.5,1089.6 1450.0,1089.0 1450.5,1088.3 1451.0,1087.0 1451.5,1085.7 1452.0,1084.6 1452.5,1083.2 1453.0,1082.1 1453.5,1080.5 1454.0,1079.6 1454.5,1080.8 1455.0,1082.4 1455.5,1083.8 1456.0,1085.4 1456.5,1086.7 1457.0,1087.7 1457.5,1088.5 1458.0,1089.3 1458.5,1090.4 1459.0,1091.3 1459.5,1092.0 1460.0,1092.6 1460.5,1092.5 1461.0,1091.9 1461.5,1091.2 1462.0,1091.8 1462.5,1092.1 1463.0,1092.3 1463.5,1092.7 1464.0,1092.8 1464.5,1092.1 1465.0,1092.1 1465.5,1092.0 1466.0,1091.9 1466.5,1091.7 1467.0,1091.8 1467.5,1091.5 1468.0,1091.4 1468.5,1091.0 1469.0,1090.9 1469.5,1090.4 1470.0,1089.5 1470.5,1089.2 1471.0,1088.4 1471.5,1087.0 1472.0,1085.7 1472.5,1083.7 1473.0,1081.0 1473.5,1078.1 1474.0,1074.6 1474.5,1070.8 1475.0,1066.5 1475.5,1062.2 1476.0,1058.0 1476.5,1055.0 1477.0,1055.4 1477.5,1058.8 1478.0,1063.1 1478.5,1067.5 1479.0,1071.7 1479.5,1075.6 1480.0,1078.8 1480.5,1081.9 1481.0,1084.5 1481.5,1086.4 1482.0,1088.0 1482.5,1089.4 1483.0,1089.8 1483.5,1090.0 1484.0,1089.9 1484.5,1090.3 1485.0,1090.2 1485.5,1091.1 1486.0,1091.4 1486.5,1091.8 1487.0,1092.3 1487.5,1092.6 1488.0,1093.0 1488.5,1093.4 1489.0,1093.2 1489.5,1092.3 1490.0,1091.9 1490.5,1091.6 1491.0,1090.8 1491.5,1090.3 1492.0,1090.3 1492.5,1090.2 1493.0,1089.3 1493.5,1088.5 1494.0,1088.1 1494.5,1087.3 1495.0,1086.6 1495.5,1086.0 1496.0,1084.6 1496.5,1083.5 1497.0,1082.1 1497.5,1081.9 1498.0,1082.2 1498.5,1083.3 1499.0,1084.3 1499.5,1085.2 1500.0,1086.3 1500.5,1087.4 1501.0,1088.2 1501.5,1088.6 1502.0,1089.1 1502.5,1088.7 1503.0,1089.1 1503.5,1088.8 1504.0,1089.0 1504.5,1088.6 1505.0,1087.9 1505.5,1086.6 1506.0,1085.3 1506.5,1083.5 1507.0,1081.9 1507.5,1079.3 1508.0,1077.2 1508.5,1074.6 1509.0,1072.7 1509.5,1072.5 1510.0,1074.2 1510.5,1076.6 1511.0,1079.3 1511.5,1081.5 1512.0,1083.6 1512.5,1085.3 1513.0,1087.1 1513.5,1088.5 1514.0,1089.9 1514.5,1090.4 1515.0,1090.7 1515.5,1090.8 1516.0,1090.8 1516.5,1091.0 1517.0,1091.4 1517.5,1091.0 1518.0,1090.9 1518.5,1090.6 1519.0,1090.4 1519.5,1089.9 1520.0,1088.4 1520.5,1087.7 1521.0,1085.9 1521.5,1084.4 1522.0,1083.5 1522.5,1082.2 1523.0,1081.5 1523.5,1082.2 1524.0,1083.2 1524.5,1084.5 1525.0,1086.3 1525.5,1087.7 1526.0,1089.1 1526.5,1089.9 1527.0,1090.7 1527.5,1091.5 1528.0,1092.0 1528.5,1092.5 1529.0,1092.8 1529.5,1092.8 1530.0,1092.5 1530.5,1092.6 1531.0,1091.7 1531.5,1090.9 1532.0,1091.3 1532.5,1090.8 1533.0,1091.3 1533.5,1092.2 1534.0,1092.8 1534.5,1092.8 1535.0,1093.1 1535.5,1093.4 1536.0,1093.5 1536.5,1093.1 1537.0,1093.3 1537.5,1093.0 1538.0,1092.5 1538.5,1092.3 1539.0,1092.9 1539.5,1092.5 1540.0,1092.7 1540.5,1092.3 1541.0,1091.9 1541.5,1091.4 1542.0,1091.0 1542.5,1091.3 1543.0,1091.2 1543.5,1090.7 1544.0,1091.4 1544.5,1091.8 1545.0,1092.2 1545.5,1091.4 1546.0,1090.7 1546.5,1090.3 1547.0,1089.9 1547.5,1090.0 1548.0,1090.3 1548.5,1090.4 1549.0,1089.9 1549.5,1089.3 1550.0,1089.2 1550.5,1089.3 1551.0,1089.6 1551.5,1089.6 1552.0,1090.1 1552.5,1090.6 1553.0,1090.6" fill="none" stroke="#1B7D3B" stroke-width="4.6" stroke-linejoin="round" stroke-linecap="butt"/>
<path d="M152.0,848.8 152.5,849.0 153.0,849.4 153.5,848.8 154.0,849.5 154.5,849.4 155.0,850.7 155.5,852.5 156.0,852.2 156.5,853.5 157.0,854.3 157.5,855.3 158.0,856.8 158.5,857.5 159.0,858.7 159.5,859.6 160.0,859.3 160.5,858.6 161.0,858.7 161.5,859.2 162.0,859.2 162.5,858.4 163.0,859.0 163.5,858.2 164.0,857.4 164.5,857.7 165.0,857.8 165.5,857.8 166.0,856.4 166.5,855.6 167.0,857.0 167.5,856.9 168.0,857.7 168.5,859.6 169.0,859.2 169.5,858.5 170.0,859.7 170.5,859.1 171.0,860.0 171.5,858.5 172.0,857.5 172.5,856.2 173.0,855.4 173.5,855.9 174.0,855.5 174.5,855.4 175.0,854.8 175.5,853.9 176.0,853.4 176.5,852.9 177.0,853.2 177.5,851.2 178.0,850.6 178.5,850.3 179.0,849.0 179.5,849.2 180.0,850.2 180.5,849.5 181.0,848.5 181.5,849.0 182.0,848.3 182.5,847.6 183.0,846.6 183.5,846.3 184.0,846.0 184.5,844.1 185.0,844.8 185.5,844.2 186.0,843.7 186.5,844.8 187.0,844.7 187.5,845.0 188.0,844.2 188.5,844.0 189.0,843.2 189.5,843.1 190.0,840.7 190.5,839.9 191.0,840.2 191.5,842.0 192.0,843.9 192.5,843.4 193.0,843.9 193.5,844.8 194.0,845.5 194.5,847.3 195.0,848.7 195.5,849.3 196.0,850.2 196.5,851.2 197.0,852.4 197.5,852.3 198.0,851.4 198.5,851.4 199.0,848.9 199.5,848.1 200.0,847.9 200.5,846.6 201.0,847.0 201.5,845.3 202.0,844.4 202.5,844.4 203.0,844.4 203.5,846.1 204.0,846.6 204.5,847.1 205.0,849.4 205.5,849.7 206.0,851.2 206.5,851.3 207.0,852.3 207.5,852.6 208.0,853.8 208.5,855.3 209.0,854.5 209.5,854.3 210.0,854.6 210.5,854.2 211.0,854.5 211.5,853.8 212.0,854.3 212.5,854.1 213.0,853.3 213.5,852.8 214.0,851.6 214.5,850.8 215.0,849.0 215.5,847.4 216.0,847.7 216.5,848.0 217.0,849.3 217.5,850.3 218.0,850.8 218.5,851.8 219.0,852.4 219.5,853.4 220.0,852.5 220.5,852.3 221.0,851.3 221.5,850.0 222.0,849.9 222.5,849.9 223.0,848.8 223.5,848.1 224.0,846.1 224.5,842.6 225.0,842.2 225.5,841.9 226.0,839.9 226.5,837.8 227.0,835.0 227.5,834.9 228.0,834.2 228.5,834.8 229.0,835.0 229.5,832.8 230.0,830.9 230.5,829.8 231.0,829.2 231.5,828.2 232.0,827.6 232.5,825.9 233.0,824.1 233.5,821.4 234.0,818.1 234.5,815.9 235.0,812.7 235.5,810.4 236.0,808.0 236.5,805.8 237.0,802.8 237.5,800.2 238.0,797.7 238.5,795.6 239.0,793.2 239.5,790.8 240.0,787.6 240.5,786.2 241.0,783.0 241.5,779.5 242.0,777.5 242.5,775.6 243.0,773.0 243.5,772.2 244.0,769.0 244.5,766.5 245.0,763.3 245.5,760.1 246.0,759.7 246.5,757.7 247.0,755.1 247.5,752.4 248.0,749.8 248.5,749.6 249.0,747.1 249.5,745.9 250.0,744.1 250.5,741.4 251.0,739.4 251.5,737.9 252.0,736.8 252.5,735.9 253.0,735.7 253.5,733.6 254.0,732.8 254.5,731.2 255.0,730.0 255.5,728.8 256.0,727.1 256.5,726.3 257.0,725.2 257.5,723.4 258.0,722.5 258.5,721.6 259.0,721.1 259.5,721.7 260.0,722.5 260.5,721.2 261.0,719.7 261.5,717.1 262.0,714.9 262.5,713.6 263.0,713.5 263.5,713.0 264.0,712.0 264.5,712.6 265.0,713.1 265.5,714.0 266.0,715.2 266.5,716.7 267.0,716.9 267.5,716.9 268.0,718.3 268.5,718.6 269.0,718.6 269.5,719.1 270.0,718.8 270.5,719.1 271.0,719.8 271.5,721.4 272.0,723.1 272.5,725.4 273.0,727.2 273.5,729.8 274.0,732.3 274.5,734.0 275.0,735.9 275.5,738.7 276.0,741.9 276.5,742.8 277.0,745.6 277.5,747.9 278.0,749.9 278.5,751.7 279.0,753.0 279.5,754.6 280.0,756.6 280.5,757.8 281.0,760.4 281.5,763.0 282.0,765.9 282.5,767.2 283.0,768.8 283.5,770.0 284.0,771.4 284.5,773.1 285.0,773.9 285.5,775.4 286.0,775.8 286.5,776.6 287.0,778.5 287.5,781.6 288.0,783.8 288.5,785.6 289.0,788.1 289.5,790.3 290.0,793.1 290.5,795.7 291.0,798.7 291.5,802.6 292.0,803.6 292.5,806.1 293.0,808.2 293.5,809.7 294.0,812.0 294.5,813.6 295.0,815.3 295.5,817.2 296.0,818.9 296.5,819.9 297.0,819.9 297.5,822.4 298.0,824.6 298.5,826.7 299.0,827.7 299.5,830.3 300.0,831.2 300.5,832.0 301.0,833.7 301.5,836.3 302.0,838.2 302.5,839.7 303.0,840.0 303.5,841.5 304.0,842.5 304.5,843.5 305.0,844.6 305.5,843.9 306.0,844.3 306.5,844.8 307.0,846.6 307.5,847.7 308.0,846.5 308.5,848.2 309.0,847.6 309.5,847.8 310.0,849.7 310.5,850.9 311.0,850.4 311.5,850.6 312.0,850.6 312.5,851.2 313.0,850.4 313.5,850.0 314.0,850.0 314.5,850.8 315.0,851.4 315.5,851.2 316.0,852.5 316.5,853.1 317.0,853.9 317.5,854.8 318.0,855.5 318.5,858.0 319.0,858.3 319.5,858.4 320.0,859.0 320.5,858.5 321.0,858.8 321.5,857.7 322.0,859.5 322.5,859.5 323.0,858.5 323.5,858.5 324.0,857.0 324.5,855.4 325.0,856.6 325.5,857.4 326.0,856.9 326.5,856.5 327.0,854.5 327.5,855.1 328.0,854.9 328.5,855.8 329.0,856.9 329.5,856.0 330.0,854.6 330.5,855.2 331.0,855.0 331.5,856.0 332.0,856.1 332.5,855.2 333.0,853.4 333.5,853.0 334.0,853.4 334.5,853.6 335.0,854.4 335.5,854.1 336.0,854.1 336.5,854.1 337.0,855.0 337.5,855.7 338.0,855.5 338.5,855.0 339.0,856.8 339.5,855.7 340.0,855.9 340.5,854.9 341.0,855.3 341.5,855.5 342.0,856.4 342.5,856.0 343.0,855.6 343.5,854.8 344.0,853.7 344.5,853.9 345.0,854.5 345.5,853.3 346.0,854.4 346.5,854.2 347.0,854.8 347.5,856.6 348.0,856.3 348.5,856.5 349.0,856.0 349.5,855.5 350.0,855.7 350.5,855.3 351.0,854.1 351.5,854.2 352.0,853.3 352.5,853.4 353.0,853.6 353.5,854.3 354.0,853.9 354.5,853.3 355.0,854.8 355.5,855.0 356.0,856.3 356.5,855.7 357.0,855.5 357.5,855.3 358.0,854.9 358.5,855.6 359.0,856.0 359.5,855.1 360.0,854.0 360.5,852.7 361.0,851.2 361.5,849.5 362.0,848.3 362.5,847.6 363.0,847.1 363.5,844.7 364.0,844.7 364.5,846.7 365.0,847.0 365.5,849.6 366.0,849.9 366.5,849.5 367.0,850.9 367.5,850.7 368.0,852.3 368.5,852.5 369.0,852.6 369.5,853.4 370.0,854.5 370.5,854.4 371.0,855.1 371.5,855.2 372.0,854.4 372.5,854.6 373.0,855.2 373.5,855.5 374.0,854.8 374.5,854.8 375.0,854.5 375.5,854.5 376.0,853.7 376.5,853.8 377.0,854.5 377.5,854.7 378.0,855.5 378.5,856.4 379.0,854.9 379.5,856.5 380.0,855.7 380.5,855.5 381.0,855.6 381.5,854.8 382.0,854.2 382.5,853.6 383.0,854.0 383.5,854.3 384.0,855.2 384.5,854.8 385.0,854.2 385.5,854.5 386.0,853.6 386.5,854.5 387.0,855.4 387.5,854.3 388.0,856.0 388.5,855.7 389.0,857.2 389.5,857.7 390.0,857.2 390.5,857.5 391.0,857.6 391.5,856.0 392.0,855.1 392.5,853.9 393.0,854.5 393.5,854.2 394.0,855.3 394.5,855.2 395.0,854.2 395.5,853.4 396.0,853.9 396.5,854.6 397.0,855.5 397.5,855.2 398.0,854.8 398.5,855.5 399.0,854.7 399.5,854.3 400.0,854.1 400.5,853.0 401.0,852.6 401.5,851.7 402.0,852.3 402.5,853.0 403.0,852.5 403.5,853.6 404.0,852.9 404.5,853.1 405.0,852.7 405.5,853.4 406.0,854.1 406.5,853.8 407.0,854.3 407.5,855.2 408.0,855.4 408.5,857.1 409.0,856.3 409.5,856.6 410.0,855.0 410.5,855.8 411.0,856.6 411.5,856.7 412.0,857.6 412.5,857.2 413.0,857.1 413.5,857.9 414.0,858.3 414.5,857.7 415.0,857.2 415.5,856.2 416.0,856.4 416.5,855.5 417.0,856.5 417.5,856.1 418.0,856.4 418.5,856.4 419.0,855.8 419.5,856.6 420.0,856.8 420.5,856.1 421.0,856.1 421.5,854.4 422.0,853.2 422.5,854.6 423.0,855.6 423.5,856.1 424.0,855.0 424.5,854.3 425.0,854.7 425.5,854.3 426.0,855.2 426.5,855.5 427.0,854.4 427.5,854.5 428.0,854.8 428.5,855.4 429.0,856.2 429.5,856.1 430.0,856.1 430.5,856.1 431.0,854.9 431.5,855.4 432.0,855.0 432.5,854.3 433.0,854.3 433.5,854.1 434.0,853.7 434.5,852.1 435.0,852.7 435.5,852.6 436.0,852.0 436.5,852.5 437.0,850.7 437.5,848.0 438.0,847.4 438.5,846.3 439.0,847.9 439.5,847.7 440.0,849.6 440.5,850.5 441.0,851.1 441.5,853.7 442.0,855.5 442.5,854.5 443.0,855.6 443.5,855.6 444.0,856.3 444.5,855.9 445.0,855.7 445.5,853.6 446.0,852.8 446.5,852.8 447.0,853.3 447.5,853.9 448.0,853.6 448.5,853.1 449.0,854.0 449.5,854.5 450.0,855.5 450.5,855.5 451.0,854.0 451.5,853.4 452.0,852.2 452.5,851.7 453.0,851.7 453.5,851.8 454.0,853.6 454.5,855.2 455.0,854.7 455.5,855.1 456.0,854.8 456.5,854.5 457.0,854.9 457.5,856.3 458.0,856.4 458.5,856.9 459.0,856.5 459.5,856.9 460.0,856.5 460.5,856.5 461.0,856.3 461.5,856.3 462.0,854.9 462.5,855.8 463.0,855.2 463.5,855.0 464.0,855.5 464.5,855.9 465.0,855.9 465.5,856.7 466.0,856.2 466.5,855.5 467.0,855.1 467.5,854.2 468.0,854.2 468.5,854.0 469.0,854.6 469.5,855.7 470.0,856.6 470.5,857.2 471.0,856.1 471.5,857.0 472.0,856.4 472.5,855.5 473.0,858.5 473.5,858.7 474.0,857.0 474.5,856.2 475.0,855.3 475.5,855.3 476.0,856.5 476.5,856.4 477.0,856.1 477.5,855.3 478.0,854.7 478.5,855.1 479.0,855.3 479.5,855.5 480.0,856.3 480.5,855.6 481.0,855.5 481.5,855.2 482.0,855.3 482.5,854.8 483.0,856.5 483.5,857.1 484.0,857.2 484.5,854.5 485.0,855.7 485.5,855.5 486.0,855.0 486.5,856.2 487.0,854.5 487.5,852.7 488.0,853.2 488.5,854.1 489.0,854.3 489.5,854.7 490.0,855.0 490.5,853.7 491.0,854.1 491.5,854.1 492.0,854.8 492.5,855.0 493.0,854.3 493.5,853.6 494.0,852.9 494.5,852.5 495.0,851.8 495.5,851.9 496.0,852.3 496.5,851.6 497.0,851.8 497.5,851.9 498.0,852.5 498.5,852.9 499.0,853.6 499.5,855.7 500.0,856.2 500.5,856.0 501.0,857.6 501.5,856.5 502.0,854.8 502.5,855.2 503.0,855.0 503.5,854.7 504.0,856.1 504.5,856.0 505.0,854.7 505.5,853.5 506.0,853.5 506.5,854.2 507.0,854.1 507.5,854.1 508.0,855.0 508.5,854.0 509.0,853.6 509.5,853.8 510.0,853.5 510.5,853.1 511.0,853.4 511.5,854.1 512.0,853.8 512.5,853.7 513.0,855.9 513.5,856.5 514.0,855.6 514.5,855.4 515.0,855.0 515.5,855.4 516.0,855.2 516.5,855.7 517.0,855.5 517.5,855.3 518.0,855.1 518.5,855.9 519.0,856.9 519.5,857.1 520.0,856.8 520.5,857.3 521.0,856.0 521.5,854.6 522.0,854.3 522.5,853.7 523.0,854.0 523.5,854.7 524.0,854.4 524.5,853.8 525.0,854.3 525.5,855.2 526.0,855.2 526.5,854.2 527.0,853.5 527.5,853.7 528.0,853.9 528.5,852.8 529.0,853.2 529.5,852.3 530.0,851.3 530.5,852.4 531.0,852.1 531.5,852.3 532.0,851.4 532.5,850.8 533.0,851.2 533.5,851.6 534.0,851.9 534.5,852.1 535.0,851.6 535.5,851.4 536.0,850.5 536.5,849.4 537.0,847.2 537.5,838.6 538.0,821.1 538.5,791.9 539.0,756.1 539.5,724.4 540.0,705.5 540.5,700.6 541.0,705.3 541.5,724.0 542.0,756.1 542.5,791.9 543.0,821.1 543.5,838.4 544.0,846.9 544.5,850.3 545.0,852.3 545.5,852.6 546.0,852.7 546.5,852.2 547.0,851.7 547.5,851.0 548.0,852.6 548.5,852.5 549.0,853.7 549.5,854.3 550.0,856.4 550.5,858.1 551.0,858.5 551.5,857.8 552.0,857.6 552.5,856.7 553.0,856.0 553.5,855.9 554.0,855.2 554.5,854.0 555.0,855.4 555.5,855.3 556.0,853.9 556.5,854.9 557.0,854.1 557.5,854.2 558.0,854.2 558.5,853.9 559.0,853.1 559.5,852.5 560.0,852.3 560.5,854.2 561.0,854.7 561.5,853.5 562.0,853.9 562.5,853.0 563.0,853.4 563.5,853.0 564.0,851.5 564.5,851.7 565.0,851.0 565.5,849.7 566.0,850.4 566.5,851.0 567.0,851.0 567.5,849.5 568.0,849.4 568.5,851.2 569.0,851.3 569.5,853.1 570.0,854.2 570.5,854.3 571.0,854.1 571.5,854.9 572.0,856.2 572.5,855.7 573.0,855.6 573.5,856.3 574.0,855.0 574.5,857.0 575.0,857.0 575.5,855.6 576.0,855.7 576.5,854.3 577.0,853.5 577.5,853.6 578.0,854.0 578.5,854.7 579.0,854.8 579.5,855.5 580.0,854.7 580.5,854.2 581.0,854.3 581.5,853.1 582.0,853.7 582.5,853.7 583.0,854.4 583.5,854.4 584.0,854.5 584.5,854.0 585.0,853.5 585.5,853.2 586.0,854.2 586.5,853.5 587.0,853.0 587.5,853.2 588.0,852.9 588.5,852.3 589.0,850.5 589.5,849.6 590.0,848.5 590.5,847.2 591.0,846.1 591.5,845.5 592.0,844.3 592.5,843.1 593.0,842.4 593.5,843.0 594.0,844.4 594.5,845.2 595.0,846.0 595.5,846.6 596.0,846.7 596.5,846.5 597.0,846.5 597.5,846.7 598.0,848.0 598.5,847.8 599.0,848.7 599.5,849.5 600.0,850.1 600.5,849.9 601.0,851.1 601.5,850.9 602.0,850.9 602.5,850.5 603.0,849.7 603.5,849.3 604.0,848.4 604.5,847.0 605.0,845.7 605.5,843.5 606.0,840.9 606.5,836.7 607.0,831.6 607.5,825.5 608.0,819.5 608.5,813.6 609.0,809.5 609.5,814.0 610.0,819.8 610.5,825.7 611.0,831.0 611.5,835.8 612.0,839.8 612.5,842.6 613.0,845.3 613.5,848.5 614.0,850.4 614.5,851.7 615.0,853.2 615.5,852.6 616.0,852.8 616.5,852.5 617.0,852.8 617.5,852.6 618.0,852.5 618.5,852.7 619.0,851.3 619.5,851.7 620.0,852.6 620.5,852.3 621.0,852.8 621.5,853.0 622.0,852.9 622.5,852.3 623.0,851.9 623.5,851.1 624.0,850.4 624.5,849.6 625.0,849.1 625.5,851.1 626.0,850.9 626.5,851.7 627.0,850.9 627.5,851.7 628.0,852.1 628.5,852.2 629.0,854.1 629.5,853.9 630.0,852.5 630.5,853.4 631.0,853.6 631.5,854.1 632.0,853.7 632.5,853.7 633.0,853.1 633.5,853.0 634.0,853.6 634.5,854.4 635.0,854.5 635.5,855.6 636.0,855.8 636.5,856.5 637.0,857.2 637.5,857.5 638.0,857.9 638.5,858.8 639.0,860.3 639.5,860.0 640.0,858.8 640.5,858.0 641.0,857.5 641.5,857.8 642.0,858.3 642.5,858.9 643.0,857.4 643.5,855.4 644.0,855.4 644.5,853.8 645.0,853.4 645.5,853.4 646.0,853.5 646.5,852.3 647.0,851.1 647.5,849.8 648.0,846.6 648.5,842.4 649.0,836.4 649.5,826.6 650.0,814.0 650.5,797.8 651.0,780.2 651.5,763.9 652.0,751.8 652.5,747.2 653.0,751.4 653.5,763.2 654.0,779.0 654.5,795.0 655.0,810.1 655.5,821.9 656.0,830.1 656.5,834.6 657.0,837.2 657.5,838.0 658.0,836.8 658.5,835.6 659.0,837.1 659.5,838.4 660.0,839.7 660.5,840.5 661.0,840.7 661.5,839.2 662.0,836.6 662.5,833.4 663.0,829.2 663.5,823.7 664.0,816.5 664.5,807.9 665.0,798.1 665.5,788.2 666.0,779.6 666.5,780.8 667.0,789.5 667.5,799.2 668.0,808.3 668.5,816.3 669.0,822.8 669.5,827.6 670.0,831.1 670.5,833.0 671.0,833.6 671.5,833.5 672.0,831.9 672.5,829.3 673.0,826.3 673.5,823.3 674.0,821.3 674.5,824.3 675.0,828.5 675.5,832.5 676.0,835.8 676.5,838.5 677.0,841.2 677.5,844.1 678.0,846.1 678.5,847.6 679.0,848.9 679.5,849.7 680.0,849.4 680.5,849.0 681.0,848.5 681.5,848.4 682.0,848.3 682.5,848.9 683.0,849.3 683.5,850.2 684.0,850.5 684.5,851.6 685.0,851.9 685.5,852.8 686.0,852.6 686.5,852.2 687.0,852.4 687.5,852.0 688.0,851.2 688.5,851.1 689.0,851.8 689.5,851.4 690.0,852.1 690.5,853.2 691.0,853.5 691.5,854.4 692.0,854.1 692.5,853.3 693.0,852.8 693.5,853.1 694.0,852.9 694.5,853.1 695.0,852.6 695.5,852.6 696.0,852.2 696.5,851.4 697.0,851.4 697.5,851.8 698.0,851.7 698.5,852.3 699.0,852.7 699.5,853.2 700.0,853.3 700.5,852.6 701.0,853.2 701.5,852.8 702.0,852.1 702.5,851.6 703.0,850.7 703.5,850.5 704.0,850.1 704.5,850.2 705.0,849.3 705.5,848.3 706.0,847.6 706.5,846.9 707.0,846.3 707.5,845.7 708.0,844.9 708.5,843.3 709.0,841.2 709.5,840.0 710.0,836.1 710.5,830.0 711.0,818.0 711.5,796.7 712.0,763.3 712.5,719.7 713.0,671.4 713.5,626.3 714.0,591.8 714.5,571.9 715.0,566.0 715.5,571.6 716.0,591.2 716.5,625.1 717.0,669.8 717.5,717.6 718.0,760.7 718.5,793.0 719.0,813.6 719.5,824.4 720.0,829.4 720.5,830.9 721.0,831.6 721.5,831.3 722.0,830.1 722.5,828.8 723.0,827.0 723.5,825.2 724.0,825.0 724.5,827.0 725.0,829.1 725.5,831.6 726.0,833.6 726.5,835.1 727.0,836.1 727.5,836.5 728.0,836.4 728.5,836.8 729.0,836.1 729.5,834.3 730.0,830.4 730.5,822.4 731.0,806.5 731.5,779.0 732.0,739.1 732.5,689.6 733.0,638.6 733.5,594.3 734.0,563.7 734.5,548.9 735.0,547.7 735.5,559.2 736.0,586.7 736.5,628.2 737.0,678.9 737.5,729.9 738.0,773.0 738.5,803.6 739.0,822.0 739.5,831.6 740.0,836.8 740.5,840.0 741.0,842.4 741.5,844.3 742.0,846.0 742.5,846.7 743.0,847.2 743.5,847.8 744.0,848.4 744.5,849.7 745.0,850.1 745.5,851.5 746.0,852.2 746.5,852.7 747.0,853.1 747.5,852.2 748.0,852.0 748.5,852.2 749.0,852.2 749.5,852.4 750.0,853.1 750.5,853.4 751.0,853.4 751.5,853.8 752.0,855.2 752.5,854.8 753.0,855.3 753.5,855.5 754.0,855.1 754.5,854.7 755.0,854.5 755.5,853.4 756.0,853.3 756.5,852.4 757.0,851.8 757.5,852.5 758.0,853.2 758.5,853.2 759.0,853.5 759.5,853.2 760.0,853.3 760.5,852.7 761.0,853.3 761.5,854.2 762.0,853.3 762.5,851.9 763.0,850.3 763.5,849.4 764.0,848.4 764.5,847.5 765.0,847.0 765.5,847.0 766.0,846.4 766.5,845.8 767.0,846.5 767.5,847.2 768.0,846.8 768.5,846.4 769.0,844.9 769.5,843.6 770.0,840.1 770.5,834.9 771.0,827.5 771.5,817.1 772.0,803.2 772.5,786.5 773.0,768.8 773.5,752.1 774.0,738.8 774.5,731.4 775.0,730.4 775.5,735.0 776.0,742.5 776.5,750.6 777.0,757.0 777.5,761.0 778.0,761.9 778.5,760.7 779.0,759.2 779.5,757.4 780.0,756.2 780.5,755.5 781.0,755.7 781.5,756.6 782.0,757.0 782.5,757.2 783.0,756.8 783.5,755.9 784.0,754.2 784.5,752.2 785.0,750.0 785.5,747.5 786.0,744.8 786.5,742.4 787.0,739.7 787.5,738.3 788.0,737.3 788.5,737.6 789.0,738.9 789.5,741.2 790.0,744.2 790.5,748.2 791.0,752.0 791.5,755.7 792.0,758.0 792.5,759.3 793.0,759.3 793.5,758.8 794.0,758.2 794.5,758.5 795.0,760.4 795.5,763.8 796.0,768.5 796.5,773.7 797.0,777.1 797.5,777.0 798.0,769.9 798.5,753.9 799.0,730.7 799.5,704.2 800.0,679.7 800.5,661.4 801.0,651.6 801.5,647.6 802.0,646.3 802.5,648.2 803.0,652.2 803.5,656.6 804.0,659.3 804.5,659.5 805.0,658.2 805.5,656.6 806.0,657.1 806.5,660.4 807.0,667.1 807.5,681.2 808.0,703.6 808.5,732.8 809.0,764.3 809.5,792.4 810.0,814.4 810.5,829.2 811.0,837.6 811.5,842.2 812.0,844.4 812.5,845.7 813.0,846.1 813.5,845.7 814.0,846.7 814.5,847.2 815.0,847.8 815.5,847.4 816.0,847.7 816.5,846.8 817.0,844.9 817.5,841.6 818.0,836.4 818.5,828.3 819.0,816.9 819.5,801.6 820.0,782.8 820.5,761.9 821.0,742.4 821.5,726.6 822.0,718.7 822.5,721.1 823.0,733.0 823.5,751.8 824.0,773.8 824.5,796.2 825.0,816.3 825.5,832.4 826.0,845.2 826.5,853.9 827.0,859.0 827.5,859.0 828.0,859.0 828.5,859.0 829.0,859.0 829.5,859.0 830.0,859.0 830.5,859.0 831.0,859.0 831.5,859.0 832.0,859.0 832.5,859.0 833.0,859.0 833.5,859.0 834.0,859.0 834.5,859.0 835.0,859.0 835.5,859.0 836.0,859.0 836.5,849.7 837.0,823.0 837.5,784.3 838.0,738.9 838.5,695.2 839.0,662.1 839.5,644.0 840.0,639.1 840.5,644.4 841.0,662.8 841.5,696.1 842.0,739.6 842.5,784.8 843.0,823.7 843.5,850.1 844.0,859.0 844.5,859.0 845.0,859.0 845.5,859.0 846.0,859.0 846.5,859.0 847.0,859.0 847.5,859.0 848.0,859.0 848.5,859.0 849.0,859.0 849.5,859.0 850.0,856.2 850.5,835.8 851.0,806.8 851.5,774.2 852.0,744.2 852.5,722.7 853.0,712.0 853.5,710.2 854.0,715.3 854.5,730.6 855.0,756.0 855.5,787.2 856.0,818.4 856.5,844.1 857.0,859.0 857.5,859.0 858.0,859.0 858.5,859.0 859.0,859.0 859.5,859.0 860.0,859.0 860.5,846.6 861.0,823.8 861.5,795.3 862.0,766.9 862.5,743.9 863.0,729.9 863.5,724.9 864.0,726.6 864.5,736.9 865.0,756.2 865.5,783.5 866.0,812.9 866.5,838.6 867.0,856.8 867.5,859.0 868.0,859.0 868.5,859.0 869.0,859.0 869.5,859.0 870.0,859.0 870.5,856.2 871.0,835.8 871.5,803.0 872.0,761.4 872.5,717.9 873.0,681.2 873.5,658.2 874.0,649.0 874.5,649.9 875.0,662.2 875.5,688.4 876.0,727.4 876.5,771.8 877.0,812.8 877.5,843.5 878.0,859.0 878.5,859.0 879.0,859.0 879.5,859.0 880.0,859.0 880.5,859.0 881.0,859.0 881.5,859.0 882.0,859.0 882.5,859.0 883.0,859.0 883.5,859.0 884.0,859.0 884.5,859.0 885.0,859.0 885.5,859.0 886.0,859.0 886.5,859.0 887.0,859.0 887.5,859.0 888.0,859.0 888.5,859.0 889.0,859.0 889.5,859.0 890.0,859.0 890.5,859.0 891.0,859.0 891.5,859.0 892.0,859.0 892.5,859.0 893.0,859.0 893.5,859.0 894.0,859.0 894.5,849.1 895.0,824.2 895.5,791.9 896.0,756.3 896.5,723.7 897.0,699.4 897.5,685.8 898.0,681.6 898.5,684.2 899.0,696.7 899.5,719.5 900.0,750.5 900.5,784.4 901.0,815.1 901.5,838.1 902.0,852.0 902.5,859.0 903.0,859.0 903.5,859.0 904.0,859.0 904.5,858.5 905.0,856.5 905.5,854.3 906.0,852.1 906.5,849.9 907.0,847.5 907.5,845.3 908.0,844.1 908.5,844.9 909.0,846.3 909.5,848.4 910.0,849.8 910.5,850.2 911.0,849.5 911.5,847.2 912.0,842.3 912.5,834.3 913.0,822.9 913.5,808.5 914.0,791.8 914.5,774.4 915.0,758.8 915.5,747.7 916.0,743.2 916.5,746.9 917.0,757.3 917.5,772.1 918.0,788.5 918.5,803.7 919.0,816.3 919.5,824.9 920.0,830.1 920.5,832.4 921.0,832.5 921.5,832.5 922.0,837.6 922.5,843.4 923.0,849.2 923.5,854.6 924.0,859.0 924.5,859.0 925.0,859.0 925.5,859.0 926.0,859.0 926.5,859.0 927.0,859.0 927.5,859.0 928.0,859.0 928.5,857.5 929.0,852.6 929.5,847.2 930.0,843.9 930.5,848.6 931.0,854.7 931.5,859.0 932.0,859.0 932.5,859.0 933.0,859.0 933.5,859.0 934.0,859.0 934.5,859.0 935.0,859.0 935.5,859.0 936.0,859.0 936.5,859.0 937.0,859.0 937.5,859.0 938.0,859.0 938.5,859.0 939.0,859.0 939.5,859.0 940.0,859.0 940.5,859.0 941.0,859.0 941.5,859.0 942.0,859.0 942.5,859.0 943.0,859.0 943.5,859.0 944.0,859.0 944.5,859.0 945.0,859.0 945.5,859.0 946.0,859.0 946.5,859.0 947.0,859.0 947.5,859.0 948.0,859.0 948.5,859.0 949.0,859.0 949.5,859.0 950.0,859.0 950.5,859.0 951.0,859.0 951.5,859.0 952.0,859.0 952.5,859.0 953.0,859.0 953.5,859.0 954.0,859.0 954.5,859.0 955.0,859.0 955.5,859.0 956.0,859.0 956.5,859.0 957.0,859.0 957.5,859.0 958.0,859.0 958.5,854.9 959.0,843.4 959.5,828.9 960.0,811.9 960.5,793.2 961.0,774.9 961.5,759.8 962.0,751.2 962.5,750.7 963.0,758.5 963.5,772.0 964.0,788.4 964.5,804.7 965.0,819.6 965.5,831.3 966.0,840.0 966.5,846.5 967.0,850.2 967.5,852.7 968.0,852.9 968.5,854.5 969.0,855.2 969.5,854.6 970.0,854.7 970.5,854.1 971.0,853.8 971.5,853.1 972.0,852.7 972.5,853.9 973.0,854.1 973.5,855.1 974.0,854.0 974.5,853.5 975.0,853.4 975.5,853.9 976.0,853.6 976.5,852.0 977.0,852.4 977.5,851.8 978.0,850.9 978.5,850.5 979.0,849.7 979.5,849.6 980.0,848.4 980.5,848.4 981.0,847.0 981.5,844.9 982.0,843.6 982.5,842.4 983.0,840.7 983.5,840.2 984.0,840.2 984.5,840.9 985.0,842.5 985.5,844.4 986.0,845.5 986.5,846.5 987.0,847.6 987.5,848.5 988.0,849.0 988.5,850.1 989.0,850.4 989.5,850.3 990.0,850.4 990.5,850.0 991.0,849.8 991.5,848.5 992.0,848.4 992.5,846.4 993.0,844.3 993.5,841.5 994.0,839.0 994.5,834.6 995.0,829.7 995.5,824.2 996.0,817.7 996.5,810.9 997.0,805.4 997.5,805.6 998.0,810.0 998.5,814.8 999.0,819.5 999.5,823.1 1000.0,825.5 1000.5,826.6 1001.0,826.9 1001.5,826.0 1002.0,824.0 1002.5,821.5 1003.0,818.0 1003.5,815.8 1004.0,818.7 1004.5,823.5 1005.0,829.0 1005.5,833.7 1006.0,837.9 1006.5,841.4 1007.0,843.8 1007.5,845.2 1008.0,847.5 1008.5,848.1 1009.0,849.4 1009.5,851.0 1010.0,851.5 1010.5,853.2 1011.0,853.2 1011.5,853.0 1012.0,855.7 1012.5,854.0 1013.0,854.4 1013.5,855.4 1014.0,854.2 1014.5,854.6 1015.0,854.7 1015.5,854.5 1016.0,855.8 1016.5,855.2 1017.0,854.8 1017.5,854.9 1018.0,855.2 1018.5,856.1 1019.0,856.0 1019.5,856.1 1020.0,856.2 1020.5,855.0 1021.0,855.1 1021.5,855.9 1022.0,855.0 1022.5,855.6 1023.0,855.3 1023.5,856.0 1024.0,854.3 1024.5,854.0 1025.0,854.8 1025.5,855.6 1026.0,855.1 1026.5,855.2 1027.0,854.6 1027.5,854.8 1028.0,854.8 1028.5,855.7 1029.0,855.8 1029.5,853.8 1030.0,852.3 1030.5,853.1 1031.0,853.2 1031.5,852.7 1032.0,851.4 1032.5,852.0 1033.0,851.1 1033.5,850.2 1034.0,851.2 1034.5,851.7 1035.0,849.7 1035.5,848.7 1036.0,848.3 1036.5,847.2 1037.0,845.6 1037.5,843.5 1038.0,841.7 1038.5,839.7 1039.0,839.2 1039.5,840.1 1040.0,841.8 1040.5,843.3 1041.0,845.1 1041.5,847.1 1042.0,847.9 1042.5,848.7 1043.0,850.5 1043.5,850.8 1044.0,851.8 1044.5,853.4 1045.0,854.3 1045.5,853.4 1046.0,853.4 1046.5,855.2 1047.0,856.1 1047.5,855.9 1048.0,855.7 1048.5,855.1 1049.0,854.7 1049.5,854.2 1050.0,854.8 1050.5,854.8 1051.0,856.0 1051.5,855.9 1052.0,856.2 1052.5,857.9 1053.0,858.8 1053.5,857.4 1054.0,857.7 1054.5,857.3 1055.0,854.9 1055.5,853.1 1056.0,853.1 1056.5,852.5 1057.0,853.5 1057.5,854.3 1058.0,854.6 1058.5,854.3 1059.0,853.3 1059.5,853.3 1060.0,852.7 1060.5,851.7 1061.0,851.3 1061.5,849.9 1062.0,849.5 1062.5,848.3 1063.0,846.7 1063.5,844.7 1064.0,842.6 1064.5,840.5 1065.0,837.1 1065.5,832.9 1066.0,828.4 1066.5,823.1 1067.0,817.2 1067.5,811.1 1068.0,805.3 1068.5,800.4 1069.0,802.9 1069.5,808.5 1070.0,814.6 1070.5,820.8 1071.0,826.5 1071.5,831.4 1072.0,835.8 1072.5,839.4 1073.0,842.2 1073.5,845.1 1074.0,847.0 1074.5,848.6 1075.0,849.7 1075.5,850.3 1076.0,850.7 1076.5,850.9 1077.0,852.7 1077.5,851.7 1078.0,851.7 1078.5,851.7 1079.0,850.8 1079.5,851.4 1080.0,851.9 1080.5,852.5 1081.0,852.2 1081.5,851.8 1082.0,851.5 1082.5,851.5 1083.0,852.3 1083.5,852.6 1084.0,853.4 1084.5,853.4 1085.0,853.4 1085.5,853.2 1086.0,852.3 1086.5,851.3 1087.0,849.7 1087.5,848.0 1088.0,846.4 1088.5,844.4 1089.0,842.6 1089.5,839.4 1090.0,836.4 1090.5,834.0 1091.0,830.3 1091.5,827.3 1092.0,825.2 1092.5,827.4 1093.0,830.4 1093.5,833.9 1094.0,837.4 1094.5,840.3 1095.0,842.2 1095.5,843.7 1096.0,845.3 1096.5,846.5 1097.0,847.0 1097.5,848.8 1098.0,849.7 1098.5,850.5 1099.0,851.0 1099.5,851.3 1100.0,853.4 1100.5,854.7 1101.0,855.9 1101.5,853.9 1102.0,852.8 1102.5,852.7 1103.0,851.8 1103.5,852.9 1104.0,854.5 1104.5,854.7 1105.0,854.5 1105.5,853.9 1106.0,854.6 1106.5,856.6 1107.0,856.9 1107.5,857.6 1108.0,857.6 1108.5,856.8 1109.0,854.4 1109.5,855.5 1110.0,856.3 1110.5,854.8 1111.0,853.9 1111.5,854.7 1112.0,855.7 1112.5,856.9 1113.0,858.7 1113.5,858.9 1114.0,856.5 1114.5,855.7 1115.0,854.8 1115.5,855.4 1116.0,853.8 1116.5,854.2 1117.0,854.5 1117.5,853.6 1118.0,854.2 1118.5,853.7 1119.0,853.7 1119.5,853.8 1120.0,853.7 1120.5,854.9 1121.0,854.3 1121.5,853.3 1122.0,853.4 1122.5,853.5 1123.0,852.4 1123.5,853.2 1124.0,852.1 1124.5,853.3 1125.0,853.4 1125.5,852.5 1126.0,853.5 1126.5,853.7 1127.0,853.6 1127.5,853.0 1128.0,851.5 1128.5,851.9 1129.0,851.5 1129.5,853.0 1130.0,853.9 1130.5,853.6 1131.0,854.6 1131.5,853.6 1132.0,853.8 1132.5,854.0 1133.0,853.5 1133.5,853.0 1134.0,852.1 1134.5,851.6 1135.0,851.8 1135.5,852.1 1136.0,851.7 1136.5,850.4 1137.0,848.6 1137.5,846.5 1138.0,845.1 1138.5,843.1 1139.0,841.5 1139.5,839.7 1140.0,837.5 1140.5,836.5 1141.0,835.9 1141.5,837.6 1142.0,839.2 1142.5,841.4 1143.0,843.5 1143.5,844.9 1144.0,845.8 1144.5,845.4 1145.0,845.9 1145.5,847.7 1146.0,848.2 1146.5,849.9 1147.0,850.1 1147.5,850.0 1148.0,850.2 1148.5,851.5 1149.0,852.8 1149.5,852.0 1150.0,852.1 1150.5,852.8 1151.0,852.3 1151.5,851.8 1152.0,849.9 1152.5,849.6 1153.0,848.0 1153.5,846.3 1154.0,844.7 1154.5,841.0 1155.0,837.2 1155.5,832.9 1156.0,828.1 1156.5,822.9 1157.0,816.3 1157.5,809.1 1158.0,801.3 1158.5,793.4 1159.0,786.5 1159.5,785.4 1160.0,791.9 1160.5,799.8 1161.0,807.7 1161.5,815.3 1162.0,822.3 1162.5,828.2 1163.0,833.6 1163.5,837.9 1164.0,841.5 1164.5,844.2 1165.0,847.2 1165.5,849.4 1166.0,851.2 1166.5,852.0 1167.0,852.3 1167.5,852.4 1168.0,852.9 1168.5,853.3 1169.0,853.1 1169.5,853.7 1170.0,854.1 1170.5,855.4 1171.0,854.8 1171.5,855.0 1172.0,855.4 1172.5,856.2 1173.0,856.5 1173.5,855.6 1174.0,855.3 1174.5,855.4 1175.0,854.9 1175.5,857.1 1176.0,856.7 1176.5,856.9 1177.0,857.4 1177.5,856.6 1178.0,856.9 1178.5,855.3 1179.0,855.3 1179.5,855.2 1180.0,853.2 1180.5,853.2 1181.0,853.4 1181.5,854.0 1182.0,854.2 1182.5,854.2 1183.0,854.7 1183.5,853.9 1184.0,854.0 1184.5,854.0 1185.0,854.1 1185.5,854.3 1186.0,853.4 1186.5,854.5 1187.0,854.2 1187.5,854.0 1188.0,854.5 1188.5,853.1 1189.0,852.2 1189.5,852.5 1190.0,852.5 1190.5,852.5 1191.0,852.3 1191.5,852.1 1192.0,851.9 1192.5,850.9 1193.0,851.2 1193.5,849.8 1194.0,847.9 1194.5,845.3 1195.0,843.1 1195.5,840.9 1196.0,837.5 1196.5,833.7 1197.0,830.1 1197.5,827.0 1198.0,824.6 1198.5,827.1 1199.0,830.1 1199.5,834.0 1200.0,837.2 1200.5,840.1 1201.0,843.4 1201.5,845.7 1202.0,847.5 1202.5,849.1 1203.0,850.1 1203.5,851.1 1204.0,850.7 1204.5,851.4 1205.0,851.7 1205.5,851.1 1206.0,851.0 1206.5,850.1 1207.0,849.9 1207.5,849.8 1208.0,849.4 1208.5,849.4 1209.0,848.2 1209.5,847.8 1210.0,846.9 1210.5,845.8 1211.0,845.6 1211.5,846.4 1212.0,847.7 1212.5,848.7 1213.0,849.7 1213.5,851.1 1214.0,852.2 1214.5,852.7 1215.0,853.9 1215.5,855.4 1216.0,854.5 1216.5,854.7 1217.0,856.4 1217.5,856.3 1218.0,858.1 1218.5,857.5 1219.0,857.3 1219.5,857.6 1220.0,857.1 1220.5,856.1 1221.0,854.8 1221.5,854.2 1222.0,853.2 1222.5,852.2 1223.0,854.2 1223.5,853.9 1224.0,853.7 1224.5,852.4 1225.0,852.0 1225.5,851.9 1226.0,851.2 1226.5,851.5 1227.0,852.3 1227.5,851.9 1228.0,851.5 1228.5,851.8 1229.0,851.8 1229.5,851.8 1230.0,852.3 1230.5,851.8 1231.0,852.0 1231.5,851.6 1232.0,851.5 1232.5,852.2 1233.0,852.4 1233.5,853.0 1234.0,852.0 1234.5,852.6 1235.0,851.8 1235.5,851.1 1236.0,852.3 1236.5,851.6 1237.0,852.0 1237.5,850.5 1238.0,848.5 1238.5,847.5 1239.0,846.6 1239.5,845.7 1240.0,845.3 1240.5,843.0 1241.0,841.9 1241.5,840.1 1242.0,839.4 1242.5,841.1 1243.0,843.0 1243.5,844.9 1244.0,846.1 1244.5,846.6 1245.0,848.6 1245.5,849.4 1246.0,851.7 1246.5,853.3 1247.0,854.7 1247.5,855.5 1248.0,855.2 1248.5,854.8 1249.0,855.9 1249.5,855.0 1250.0,855.9 1250.5,854.9 1251.0,855.5 1251.5,855.4 1252.0,855.7 1252.5,855.5 1253.0,856.0 1253.5,855.0 1254.0,854.5 1254.5,854.8 1255.0,855.4 1255.5,854.8 1256.0,855.0 1256.5,855.8 1257.0,857.2 1257.5,857.3 1258.0,856.7 1258.5,857.3 1259.0,856.9 1259.5,856.8 1260.0,856.3 1260.5,855.6 1261.0,855.2 1261.5,854.3 1262.0,854.1 1262.5,853.8 1263.0,853.0 1263.5,854.0 1264.0,853.0 1264.5,854.2 1265.0,855.1 1265.5,855.2 1266.0,856.1 1266.5,855.4 1267.0,855.5 1267.5,854.7 1268.0,853.2 1268.5,852.9 1269.0,853.6 1269.5,854.0 1270.0,853.5 1270.5,854.7 1271.0,856.1 1271.5,855.3 1272.0,856.2 1272.5,855.5 1273.0,854.7 1273.5,854.3 1274.0,854.3 1274.5,854.2 1275.0,852.9 1275.5,852.5 1276.0,851.4 1276.5,852.0 1277.0,852.6 1277.5,853.1 1278.0,853.2 1278.5,851.7 1279.0,851.5 1279.5,851.6 1280.0,851.3 1280.5,851.1 1281.0,849.5 1281.5,850.0 1282.0,849.0 1282.5,850.0 1283.0,851.2 1283.5,850.7 1284.0,850.8 1284.5,851.5 1285.0,851.2 1285.5,851.4 1286.0,850.8 1286.5,850.3 1287.0,850.3 1287.5,849.7 1288.0,848.7 1288.5,848.1 1289.0,846.2 1289.5,845.7 1290.0,844.8 1290.5,843.3 1291.0,843.5 1291.5,845.1 1292.0,846.9 1292.5,848.8 1293.0,850.0 1293.5,851.6 1294.0,851.1 1294.5,851.6 1295.0,851.8 1295.5,853.0 1296.0,852.1 1296.5,850.4 1297.0,850.8 1297.5,851.1 1298.0,849.9 1298.5,851.7 1299.0,853.8 1299.5,852.1 1300.0,852.4 1300.5,853.4 1301.0,853.5 1301.5,854.6 1302.0,854.5 1302.5,855.0 1303.0,855.3 1303.5,855.4 1304.0,855.4 1304.5,854.4 1305.0,854.1 1305.5,853.0 1306.0,851.5 1306.5,850.4 1307.0,849.5 1307.5,847.2 1308.0,845.7 1308.5,844.4 1309.0,842.5 1309.5,839.3 1310.0,836.1 1310.5,833.2 1311.0,830.0 1311.5,827.6 1312.0,828.7 1312.5,831.5 1313.0,834.7 1313.5,837.2 1314.0,839.6 1314.5,841.6 1315.0,843.5 1315.5,846.3 1316.0,847.7 1316.5,849.8 1317.0,849.8 1317.5,850.2 1318.0,851.1 1318.5,852.2 1319.0,853.6 1319.5,854.0 1320.0,854.1 1320.5,854.0 1321.0,853.0 1321.5,853.8 1322.0,853.9 1322.5,852.3 1323.0,851.3 1323.5,850.5 1324.0,850.0 1324.5,849.5 1325.0,848.1 1325.5,847.3 1326.0,843.7 1326.5,840.4 1327.0,837.0 1327.5,832.6 1328.0,827.6 1328.5,821.4 1329.0,815.0 1329.5,809.0 1330.0,804.8 1330.5,809.1 1331.0,814.9 1331.5,821.3 1332.0,827.0 1332.5,832.1 1333.0,836.4 1333.5,839.8 1334.0,842.5 1334.5,845.0 1335.0,846.7 1335.5,848.6 1336.0,849.8 1336.5,850.1 1337.0,850.3 1337.5,850.2 1338.0,850.1 1338.5,848.9 1339.0,848.3 1339.5,846.5 1340.0,844.4 1340.5,843.2 1341.0,841.1 1341.5,838.1 1342.0,835.8 1342.5,832.8 1343.0,830.6 1343.5,829.5 1344.0,831.4 1344.5,834.1 1345.0,836.7 1345.5,838.8 1346.0,841.5 1346.5,844.0 1347.0,845.4 1347.5,846.3 1348.0,847.1 1348.5,848.2 1349.0,848.8 1349.5,849.9 1350.0,850.4 1350.5,850.8 1351.0,849.9 1351.5,849.3 1352.0,847.7 1352.5,846.1 1353.0,843.7 1353.5,841.0 1354.0,837.9 1354.5,833.8 1355.0,829.3 1355.5,825.2 1356.0,820.7 1356.5,817.6 1357.0,818.1 1357.5,821.8 1358.0,826.6 1358.5,830.9 1359.0,835.0 1359.5,838.9 1360.0,841.4 1360.5,843.3 1361.0,844.7 1361.5,845.8 1362.0,847.0 1362.5,847.0 1363.0,847.4 1363.5,848.1 1364.0,848.2 1364.5,848.5 1365.0,848.7 1365.5,849.2 1366.0,848.5 1366.5,848.0 1367.0,847.2 1367.5,846.7 1368.0,845.3 1368.5,843.1 1369.0,841.6 1369.5,841.0 1370.0,839.9 1370.5,838.3 1371.0,837.0 1371.5,835.8 1372.0,837.5 1372.5,839.3 1373.0,841.5 1373.5,843.5 1374.0,845.2 1374.5,845.9 1375.0,847.7 1375.5,848.9 1376.0,849.6 1376.5,850.1 1377.0,850.2 1377.5,850.8 1378.0,850.0 1378.5,850.5 1379.0,850.2 1379.5,850.3 1380.0,850.3 1380.5,849.6 1381.0,847.8 1381.5,846.5 1382.0,843.7 1382.5,840.7 1383.0,837.8 1383.5,834.6 1384.0,830.2 1384.5,825.0 1385.0,818.9 1385.5,812.7 1386.0,806.0 1386.5,801.6 1387.0,805.0 1387.5,809.7 1388.0,814.7 1388.5,818.8 1389.0,822.1 1389.5,824.3 1390.0,824.8 1390.5,824.4 1391.0,822.2 1391.5,819.3 1392.0,815.0 1392.5,810.8 1393.0,807.9 1393.5,811.9 1394.0,817.7 1394.5,823.3 1395.0,829.0 1395.5,833.9 1396.0,838.3 1396.5,842.0 1397.0,844.5 1397.5,846.4 1398.0,847.9 1398.5,849.7 1399.0,849.2 1399.5,850.7 1400.0,852.8 1400.5,852.4 1401.0,853.2 1401.5,853.6 1402.0,852.9 1402.5,853.0 1403.0,853.0 1403.5,853.6 1404.0,853.5 1404.5,852.3 1405.0,852.1 1405.5,852.7 1406.0,853.0 1406.5,852.4 1407.0,851.8 1407.5,851.1 1408.0,850.2 1408.5,849.6 1409.0,848.8 1409.5,846.3 1410.0,844.7 1410.5,841.9 1411.0,839.8 1411.5,836.3 1412.0,832.3 1412.5,827.6 1413.0,822.3 1413.5,817.0 1414.0,811.7 1414.5,807.9 1415.0,809.6 1415.5,813.9 1416.0,818.6 1416.5,822.7 1417.0,826.5 1417.5,829.4 1418.0,831.8 1418.5,833.5 1419.0,834.4 1419.5,834.7 1420.0,834.2 1420.5,833.2 1421.0,833.9 1421.5,836.1 1422.0,838.8 1422.5,841.8 1423.0,844.3 1423.5,846.2 1424.0,847.3 1424.5,848.6 1425.0,849.7 1425.5,850.9 1426.0,852.1 1426.5,852.4 1427.0,852.4 1427.5,853.9 1428.0,853.8 1428.5,853.1 1429.0,853.3 1429.5,852.9 1430.0,852.3 1430.5,852.5 1431.0,852.4 1431.5,852.7 1432.0,853.1 1432.5,852.9 1433.0,852.3 1433.5,852.0 1434.0,852.1 1434.5,851.4 1435.0,851.1 1435.5,850.0 1436.0,850.0 1436.5,849.5 1437.0,848.9 1437.5,848.7 1438.0,846.4 1438.5,845.1 1439.0,843.2 1439.5,841.3 1440.0,840.2 1440.5,838.0 1441.0,836.6 1441.5,837.8 1442.0,839.3 1442.5,841.6 1443.0,843.2 1443.5,844.5 1444.0,845.2 1444.5,846.2 1445.0,847.5 1445.5,847.7 1446.0,849.2 1446.5,849.4 1447.0,849.6 1447.5,849.4 1448.0,848.5 1448.5,847.7 1449.0,847.2 1449.5,846.5 1450.0,845.8 1450.5,845.5 1451.0,844.0 1451.5,842.8 1452.0,840.7 1452.5,839.3 1453.0,837.2 1453.5,834.6 1454.0,833.3 1454.5,835.0 1455.0,837.1 1455.5,839.6 1456.0,841.7 1456.5,844.2 1457.0,846.7 1457.5,848.2 1458.0,849.4 1458.5,850.6 1459.0,851.5 1459.5,852.1 1460.0,852.2 1460.5,852.3 1461.0,852.6 1461.5,852.4 1462.0,852.7 1462.5,854.1 1463.0,855.1 1463.5,853.9 1464.0,854.0 1464.5,853.5 1465.0,853.7 1465.5,854.0 1466.0,852.2 1466.5,853.1 1467.0,852.5 1467.5,851.3 1468.0,850.6 1468.5,849.8 1469.0,849.7 1469.5,848.8 1470.0,847.8 1470.5,847.5 1471.0,846.6 1471.5,844.4 1472.0,842.0 1472.5,839.9 1473.0,836.3 1473.5,831.6 1474.0,826.9 1474.5,820.4 1475.0,813.1 1475.5,806.1 1476.0,798.9 1476.5,793.3 1477.0,793.8 1477.5,799.5 1478.0,806.7 1478.5,813.7 1479.0,820.3 1479.5,826.4 1480.0,830.9 1480.5,835.1 1481.0,838.6 1481.5,841.5 1482.0,843.9 1482.5,846.6 1483.0,848.3 1483.5,849.8 1484.0,849.3 1484.5,849.7 1485.0,849.6 1485.5,849.6 1486.0,849.8 1486.5,850.0 1487.0,850.8 1487.5,849.7 1488.0,850.1 1488.5,848.7 1489.0,848.1 1489.5,847.7 1490.0,848.8 1490.5,850.0 1491.0,849.7 1491.5,848.4 1492.0,848.1 1492.5,846.6 1493.0,846.1 1493.5,845.0 1494.0,843.4 1494.5,841.2 1495.0,839.1 1495.5,837.6 1496.0,835.4 1496.5,832.7 1497.0,830.1 1497.5,828.2 1498.0,829.0 1498.5,831.5 1499.0,834.3 1499.5,837.3 1500.0,839.5 1500.5,842.2 1501.0,843.9 1501.5,844.4 1502.0,845.5 1502.5,845.5 1503.0,845.8 1503.5,845.1 1504.0,844.4 1504.5,843.8 1505.0,842.6 1505.5,840.9 1506.0,839.0 1506.5,835.8 1507.0,832.4 1507.5,828.3 1508.0,824.5 1508.5,820.6 1509.0,818.2 1509.5,820.6 1510.0,824.4 1510.5,828.9 1511.0,832.7 1511.5,836.8 1512.0,839.8 1512.5,842.1 1513.0,844.7 1513.5,846.9 1514.0,847.9 1514.5,849.7 1515.0,850.5 1515.5,850.5 1516.0,850.4 1516.5,851.8 1517.0,851.3 1517.5,851.2 1518.0,850.8 1518.5,850.0 1519.0,848.8 1519.5,848.0 1520.0,846.7 1520.5,846.5 1521.0,845.7 1521.5,845.1 1522.0,844.1 1522.5,842.6 1523.0,842.3 1523.5,843.2 1524.0,844.3 1524.5,846.1 1525.0,847.1 1525.5,848.8 1526.0,849.5 1526.5,851.0 1527.0,852.9 1527.5,851.7 1528.0,853.1 1528.5,854.5 1529.0,854.4 1529.5,855.5 1530.0,854.8 1530.5,854.5 1531.0,854.3 1531.5,853.1 1532.0,854.6 1532.5,854.6 1533.0,854.6 1533.5,855.6 1534.0,855.8 1534.5,856.1 1535.0,855.3 1535.5,856.7 1536.0,856.3 1536.5,857.3 1537.0,857.1 1537.5,856.7 1538.0,856.1 1538.5,854.2 1539.0,853.5 1539.5,853.3 1540.0,852.2 1540.5,852.3 1541.0,852.7 1541.5,852.7 1542.0,853.4 1542.5,853.3 1543.0,853.0 1543.5,852.7 1544.0,853.3 1544.5,854.8 1545.0,854.3 1545.5,854.6 1546.0,853.0 1546.5,852.4 1547.0,850.9 1547.5,849.9 1548.0,848.5 1548.5,847.6 1549.0,846.4 1549.5,845.2 1550.0,844.3 1550.5,843.0 1551.0,842.1 1551.5,842.5 1552.0,842.9 1552.5,844.8 1553.0,846.1" fill="none" stroke="#2A6AA3" stroke-width="4.6" stroke-linejoin="round" stroke-linecap="butt"/>
<path d="M152.0,611.2 152.5,612.6 153.0,611.1 153.5,610.7 154.0,609.6 154.5,610.1 155.0,609.7 155.5,607.6 156.0,606.4 156.5,603.9 157.0,603.5 157.5,602.8 158.0,603.0 158.5,602.4 159.0,601.9 159.5,600.4 160.0,599.0 160.5,599.8 161.0,600.6 161.5,600.8 162.0,599.5 162.5,600.6 163.0,600.7 163.5,601.8 164.0,601.6 164.5,601.7 165.0,602.7 165.5,602.3 166.0,602.7 166.5,604.3 167.0,604.6 167.5,605.2 168.0,603.8 168.5,603.3 169.0,600.9 169.5,599.7 170.0,598.1 170.5,598.2 171.0,598.9 171.5,596.7 172.0,596.1 172.5,596.2 173.0,598.0 173.5,599.3 174.0,600.7 174.5,600.5 175.0,599.0 175.5,598.7 176.0,599.2 176.5,600.2 177.0,600.4 177.5,601.5 178.0,602.0 178.5,600.4 179.0,599.8 179.5,600.3 180.0,599.9 180.5,599.3 181.0,599.4 181.5,598.4 182.0,597.0 182.5,596.2 183.0,595.9 183.5,595.0 184.0,593.9 184.5,593.2 185.0,594.1 185.5,592.2 186.0,592.5 186.5,592.1 187.0,592.4 187.5,591.6 188.0,593.2 188.5,594.1 189.0,593.0 189.5,590.7 190.0,592.2 190.5,593.1 191.0,594.0 191.5,594.3 192.0,594.1 192.5,595.0 193.0,594.8 193.5,595.1 194.0,595.3 194.5,594.5 195.0,594.5 195.5,593.7 196.0,593.8 196.5,594.9 197.0,594.3 197.5,593.4 198.0,593.4 198.5,594.6 199.0,595.5 199.5,595.0 200.0,593.2 200.5,592.4 201.0,591.2 201.5,593.2 202.0,592.6 202.5,593.9 203.0,594.2 203.5,594.8 204.0,596.0 204.5,596.3 205.0,598.2 205.5,599.8 206.0,599.3 206.5,600.0 207.0,599.2 207.5,597.7 208.0,596.3 208.5,596.4 209.0,597.0 209.5,595.8 210.0,594.4 210.5,594.1 211.0,597.0 211.5,597.9 212.0,600.4 212.5,601.5 213.0,601.3 213.5,602.2 214.0,603.6 214.5,603.8 215.0,604.6 215.5,605.4 216.0,605.5 216.5,603.4 217.0,603.9 217.5,603.9 218.0,602.7 218.5,601.9 219.0,601.9 219.5,600.6 220.0,599.8 220.5,599.6 221.0,600.5 221.5,599.4 222.0,598.7 222.5,598.1 223.0,595.6 223.5,595.4 224.0,595.9 224.5,594.7 225.0,593.8 225.5,591.5 226.0,591.1 226.5,588.5 227.0,586.8 227.5,585.5 228.0,583.5 228.5,584.5 229.0,583.8 229.5,583.9 230.0,583.3 230.5,581.3 231.0,579.2 231.5,578.0 232.0,578.4 232.5,577.5 233.0,573.4 233.5,571.7 234.0,568.9 234.5,566.5 235.0,563.5 235.5,561.7 236.0,558.7 236.5,557.0 237.0,555.9 237.5,553.7 238.0,551.4 238.5,549.9 239.0,545.8 239.5,544.6 240.0,541.5 240.5,539.9 241.0,536.3 241.5,533.4 242.0,531.7 242.5,529.3 243.0,527.2 243.5,525.4 244.0,523.5 244.5,522.8 245.0,520.6 245.5,519.0 246.0,517.9 246.5,516.5 247.0,515.4 247.5,513.5 248.0,512.9 248.5,513.0 249.0,508.7 249.5,504.5 250.0,500.3 250.5,495.2 251.0,490.6 251.5,486.1 252.0,481.1 252.5,479.8 253.0,479.2 253.5,479.0 254.0,478.8 254.5,480.1 255.0,479.6 255.5,478.8 256.0,478.8 256.5,477.7 257.0,476.0 257.5,475.8 258.0,477.1 258.5,478.2 259.0,479.0 259.5,480.5 260.0,480.2 260.5,478.0 261.0,475.8 261.5,475.2 262.0,473.6 262.5,469.7 263.0,467.0 263.5,462.1 264.0,457.7 264.5,458.8 265.0,461.2 265.5,462.7 266.0,465.4 266.5,467.2 267.0,468.1 267.5,469.4 268.0,470.3 268.5,471.3 269.0,472.5 269.5,474.0 270.0,476.0 270.5,477.9 271.0,480.2 271.5,481.7 272.0,483.8 272.5,485.4 273.0,487.8 273.5,490.6 274.0,493.0 274.5,494.6 275.0,498.0 275.5,500.1 276.0,503.0 276.5,505.7 277.0,506.5 277.5,508.4 278.0,510.4 278.5,510.9 279.0,515.1 279.5,515.8 280.0,517.1 280.5,518.2 281.0,520.1 281.5,523.3 282.0,526.3 282.5,529.1 283.0,533.2 283.5,535.5 284.0,536.3 284.5,539.0 285.0,542.8 285.5,546.4 286.0,549.2 286.5,553.3 287.0,556.7 287.5,557.3 288.0,560.0 288.5,561.6 289.0,561.5 289.5,562.1 290.0,563.2 290.5,566.3 291.0,566.6 291.5,567.7 292.0,569.5 292.5,568.1 293.0,570.2 293.5,571.5 294.0,571.8 294.5,575.6 295.0,577.6 295.5,578.4 296.0,582.1 296.5,585.2 297.0,588.9 297.5,591.9 298.0,595.1 298.5,597.7 299.0,598.3 299.5,599.1 300.0,600.9 300.5,599.1 301.0,599.3 301.5,602.1 302.0,603.5 302.5,605.2 303.0,605.5 303.5,605.4 304.0,604.1 304.5,605.5 305.0,606.8 305.5,606.2 306.0,605.6 306.5,604.7 307.0,605.9 307.5,606.9 308.0,608.1 308.5,609.6 309.0,609.2 309.5,610.9 310.0,609.1 310.5,609.1 311.0,608.0 311.5,606.5 312.0,606.6 312.5,607.2 313.0,606.9 313.5,608.5 314.0,609.8 314.5,610.7 315.0,612.2 315.5,610.1 316.0,610.7 316.5,610.1 317.0,609.0 317.5,610.9 318.0,609.3 318.5,606.8 319.0,605.7 319.5,604.2 320.0,605.4 320.5,605.3 321.0,606.0 321.5,605.7 322.0,604.8 322.5,603.4 323.0,604.3 323.5,605.8 324.0,606.1 324.5,606.5 325.0,607.0 325.5,606.3 326.0,605.8 326.5,607.0 327.0,608.6 327.5,610.7 328.0,610.1 328.5,609.7 329.0,610.2 329.5,611.1 330.0,612.7 330.5,614.0 331.0,613.0 331.5,612.5 332.0,611.3 332.5,611.0 333.0,610.9 333.5,611.1 334.0,609.7 334.5,608.7 335.0,609.9 335.5,610.0 336.0,610.2 336.5,609.6 337.0,609.5 337.5,609.3 338.0,608.3 338.5,608.3 339.0,608.8 339.5,609.0 340.0,609.0 340.5,608.4 341.0,608.3 341.5,608.0 342.0,608.8 342.5,609.2 343.0,609.7 343.5,610.6 344.0,608.9 344.5,608.9 345.0,609.0 345.5,610.4 346.0,611.1 346.5,610.6 347.0,610.1 347.5,609.8 348.0,608.9 348.5,608.0 349.0,606.9 349.5,606.6 350.0,604.8 350.5,604.7 351.0,606.2 351.5,607.3 352.0,605.1 352.5,605.0 353.0,605.4 353.5,607.1 354.0,607.4 354.5,608.1 355.0,609.0 355.5,608.3 356.0,607.4 356.5,607.7 357.0,606.8 357.5,607.8 358.0,606.7 358.5,606.9 359.0,607.2 359.5,606.0 360.0,606.2 360.5,605.7 361.0,605.7 361.5,606.5 362.0,605.2 362.5,605.9 363.0,608.5 363.5,608.9 364.0,608.5 364.5,609.3 365.0,609.0 365.5,609.3 366.0,607.8 366.5,609.6 367.0,610.0 367.5,610.5 368.0,611.2 368.5,611.3 369.0,611.5 369.5,610.8 370.0,610.3 370.5,610.3 371.0,608.0 371.5,608.0 372.0,608.1 372.5,608.7 373.0,608.4 373.5,607.2 374.0,607.5 374.5,606.8 375.0,606.8 375.5,606.6 376.0,606.6 376.5,605.9 377.0,606.3 377.5,607.3 378.0,608.0 378.5,608.5 379.0,607.8 379.5,607.6 380.0,606.7 380.5,606.3 381.0,607.2 381.5,607.6 382.0,608.1 382.5,609.0 383.0,609.9 383.5,612.6 384.0,614.4 384.5,614.6 385.0,614.6 385.5,611.4 386.0,612.1 386.5,612.7 387.0,612.2 387.5,613.2 388.0,611.9 388.5,612.0 389.0,612.8 389.5,611.6 390.0,611.4 390.5,612.0 391.0,611.9 391.5,611.1 392.0,609.8 392.5,609.2 393.0,607.7 393.5,606.8 394.0,606.9 394.5,606.3 395.0,606.0 395.5,605.6 396.0,606.1 396.5,607.2 397.0,607.0 397.5,607.3 398.0,606.7 398.5,607.6 399.0,606.8 399.5,607.0 400.0,607.9 400.5,608.6 401.0,608.0 401.5,608.2 402.0,606.4 402.5,607.6 403.0,608.0 403.5,608.0 404.0,609.0 404.5,609.1 405.0,609.4 405.5,610.0 406.0,609.3 406.5,610.5 407.0,610.1 407.5,609.2 408.0,608.4 408.5,608.1 409.0,607.6 409.5,608.1 410.0,609.0 410.5,609.1 411.0,608.6 411.5,607.7 412.0,607.6 412.5,607.7 413.0,609.5 413.5,608.8 414.0,607.8 414.5,608.1 415.0,607.5 415.5,607.1 416.0,606.8 416.5,608.0 417.0,606.9 417.5,606.9 418.0,606.3 418.5,607.4 419.0,608.1 419.5,608.3 420.0,607.3 420.5,608.1 421.0,607.8 421.5,608.6 422.0,609.6 422.5,610.5 423.0,609.5 423.5,609.8 424.0,609.4 424.5,610.0 425.0,608.3 425.5,606.8 426.0,606.5 426.5,608.1 427.0,612.0 427.5,613.6 428.0,612.9 428.5,614.5 429.0,613.1 429.5,611.9 430.0,614.4 430.5,614.0 431.0,612.4 431.5,611.7 432.0,610.4 432.5,610.8 433.0,610.3 433.5,608.8 434.0,608.5 434.5,607.0 435.0,607.8 435.5,610.0 436.0,609.7 436.5,609.5 437.0,608.6 437.5,608.6 438.0,608.5 438.5,609.6 439.0,609.8 439.5,609.0 440.0,608.2 440.5,609.3 441.0,608.1 441.5,608.7 442.0,608.9 442.5,606.9 443.0,606.9 443.5,607.4 444.0,606.0 444.5,606.6 445.0,606.4 445.5,607.0 446.0,607.7 446.5,608.4 447.0,609.7 447.5,608.2 448.0,609.2 448.5,608.5 449.0,608.8 449.5,609.6 450.0,610.3 450.5,609.4 451.0,608.2 451.5,608.6 452.0,608.5 452.5,607.7 453.0,608.6 453.5,607.9 454.0,606.1 454.5,604.0 455.0,605.2 455.5,606.6 456.0,605.8 456.5,606.4 457.0,608.8 457.5,607.9 458.0,607.5 458.5,609.2 459.0,610.1 459.5,610.5 460.0,611.2 460.5,611.5 461.0,610.4 461.5,608.0 462.0,608.9 462.5,607.5 463.0,607.2 463.5,607.8 464.0,607.7 464.5,608.1 465.0,608.0 465.5,607.8 466.0,606.9 466.5,606.7 467.0,607.3 467.5,607.2 468.0,607.3 468.5,608.4 469.0,608.7 469.5,609.1 470.0,609.9 470.5,610.8 471.0,610.4 471.5,609.5 472.0,611.6 472.5,612.3 473.0,611.9 473.5,611.4 474.0,609.8 474.5,608.2 475.0,607.6 475.5,608.1 476.0,607.8 476.5,607.6 477.0,607.5 477.5,608.6 478.0,608.6 478.5,609.9 479.0,610.0 479.5,609.8 480.0,610.2 480.5,610.0 481.0,607.8 481.5,607.3 482.0,605.9 482.5,606.1 483.0,605.9 483.5,605.6 484.0,604.8 484.5,603.3 485.0,603.7 485.5,603.5 486.0,603.7 486.5,604.6 487.0,605.3 487.5,607.6 488.0,608.4 488.5,609.3 489.0,609.3 489.5,609.8 490.0,611.0 490.5,612.3 491.0,611.2 491.5,610.8 492.0,609.5 492.5,610.9 493.0,610.2 493.5,609.6 494.0,609.8 494.5,607.6 495.0,609.5 495.5,609.6 496.0,610.0 496.5,609.7 497.0,607.5 497.5,608.3 498.0,609.9 498.5,609.2 499.0,609.4 499.5,607.6 500.0,607.8 500.5,608.1 501.0,608.5 501.5,609.7 502.0,610.0 502.5,610.2 503.0,609.0 503.5,611.1 504.0,611.1 504.5,609.1 505.0,608.1 505.5,607.8 506.0,609.7 506.5,609.4 507.0,608.3 507.5,609.2 508.0,607.6 508.5,608.5 509.0,609.2 509.5,609.7 510.0,609.8 510.5,609.6 511.0,611.2 511.5,610.0 512.0,609.6 512.5,609.2 513.0,608.8 513.5,610.5 514.0,610.0 514.5,609.0 515.0,607.8 515.5,607.3 516.0,607.8 516.5,609.1 517.0,608.9 517.5,609.1 518.0,609.0 518.5,608.3 519.0,609.5 519.5,609.9 520.0,611.2 520.5,610.6 521.0,610.3 521.5,610.3 522.0,610.2 522.5,609.9 523.0,610.1 523.5,608.9 524.0,607.8 524.5,606.3 525.0,605.4 525.5,604.9 526.0,605.2 526.5,604.0 527.0,601.6 527.5,600.6 528.0,599.4 528.5,597.2 529.0,595.9 529.5,594.4 530.0,593.4 530.5,594.5 531.0,595.9 531.5,597.4 532.0,598.6 532.5,598.9 533.0,600.2 533.5,600.7 534.0,601.2 534.5,600.6 535.0,599.1 535.5,597.8 536.0,595.5 536.5,588.1 537.0,570.7 537.5,538.6 538.0,494.1 538.5,446.8 539.0,408.3 539.5,386.4 540.0,380.7 540.5,386.8 541.0,408.8 541.5,447.3 542.0,494.7 542.5,539.0 543.0,571.0 543.5,589.6 544.0,598.6 544.5,603.3 545.0,604.7 545.5,605.8 546.0,606.6 546.5,607.8 547.0,609.6 547.5,608.4 548.0,608.6 548.5,607.8 549.0,606.0 549.5,606.8 550.0,606.5 550.5,606.4 551.0,605.9 551.5,606.0 552.0,606.7 552.5,607.6 553.0,608.3 553.5,609.7 554.0,609.5 554.5,610.8 555.0,610.0 555.5,609.7 556.0,609.2 556.5,607.3 557.0,606.7 557.5,606.5 558.0,606.3 558.5,607.1 559.0,605.8 559.5,605.9 560.0,608.9 560.5,609.6 561.0,610.9 561.5,610.4 562.0,611.1 562.5,610.8 563.0,611.3 563.5,612.8 564.0,613.8 564.5,612.1 565.0,612.1 565.5,611.2 566.0,611.5 566.5,610.9 567.0,612.0 567.5,613.1 568.0,611.5 568.5,610.1 569.0,609.4 569.5,607.9 570.0,607.5 570.5,608.5 571.0,607.4 571.5,606.2 572.0,606.8 572.5,607.4 573.0,608.4 573.5,607.4 574.0,609.0 574.5,610.2 575.0,609.8 575.5,610.4 576.0,611.3 576.5,609.9 577.0,610.2 577.5,608.5 578.0,608.2 578.5,608.1 579.0,608.3 579.5,609.0 580.0,608.9 580.5,608.4 581.0,608.4 581.5,607.7 582.0,609.6 582.5,609.8 583.0,609.6 583.5,609.8 584.0,610.2 584.5,610.2 585.0,610.3 585.5,609.3 586.0,608.9 586.5,608.2 587.0,608.2 587.5,606.8 588.0,606.4 588.5,604.9 589.0,603.7 589.5,601.8 590.0,599.7 590.5,597.9 591.0,595.1 591.5,592.7 592.0,590.7 592.5,589.9 593.0,591.6 593.5,593.6 594.0,594.7 594.5,596.6 595.0,597.4 595.5,598.1 596.0,599.0 596.5,601.2 597.0,601.9 597.5,604.2 598.0,605.9 598.5,606.0 599.0,605.9 599.5,606.1 600.0,606.7 600.5,607.5 601.0,607.7 601.5,608.2 602.0,608.5 602.5,606.9 603.0,606.3 603.5,604.6 604.0,602.0 604.5,598.6 605.0,596.7 605.5,594.0 606.0,588.7 606.5,583.9 607.0,578.9 607.5,573.7 608.0,573.0 608.5,577.7 609.0,583.2 609.5,588.5 610.0,593.3 610.5,597.4 611.0,600.8 611.5,602.8 612.0,604.6 612.5,605.4 613.0,606.4 613.5,607.4 614.0,606.9 614.5,605.9 615.0,607.9 615.5,607.2 616.0,606.5 616.5,606.0 617.0,606.7 617.5,606.0 618.0,605.7 618.5,605.6 619.0,605.1 619.5,604.2 620.0,606.3 620.5,607.1 621.0,608.5 621.5,607.4 622.0,607.4 622.5,607.5 623.0,606.7 623.5,608.3 624.0,609.5 624.5,608.4 625.0,609.9 625.5,609.8 626.0,610.7 626.5,610.2 627.0,607.9 627.5,607.9 628.0,607.3 628.5,606.6 629.0,606.7 629.5,606.0 630.0,606.4 630.5,604.7 631.0,605.5 631.5,606.0 632.0,605.4 632.5,606.0 633.0,605.5 633.5,606.7 634.0,607.2 634.5,606.6 635.0,606.1 635.5,605.5 636.0,607.0 636.5,608.2 637.0,608.7 637.5,608.4 638.0,608.4 638.5,607.6 639.0,607.6 639.5,608.3 640.0,608.6 640.5,608.0 641.0,606.7 641.5,607.4 642.0,606.2 642.5,606.8 643.0,607.4 643.5,607.2 644.0,605.8 644.5,605.4 645.0,605.3 645.5,605.8 646.0,604.1 646.5,602.9 647.0,599.6 647.5,594.0 648.0,585.2 648.5,572.9 649.0,557.6 649.5,539.6 650.0,522.5 650.5,510.0 651.0,505.0 651.5,509.3 652.0,521.2 652.5,537.1 653.0,553.1 653.5,567.0 654.0,577.0 654.5,583.5 655.0,586.6 655.5,586.1 656.0,583.8 656.5,579.3 657.0,573.7 657.5,568.0 658.0,563.7 658.5,566.9 659.0,571.8 659.5,576.4 660.0,580.3 660.5,582.9 661.0,583.6 661.5,583.2 662.0,580.2 662.5,576.1 663.0,569.9 663.5,562.0 664.0,553.1 664.5,544.1 665.0,537.4 665.5,543.8 666.0,552.6 666.5,561.8 667.0,569.5 667.5,576.2 668.0,581.0 668.5,584.7 669.0,587.7 669.5,588.6 670.0,588.6 670.5,587.0 671.0,584.6 671.5,582.2 672.0,579.3 672.5,577.0 673.0,579.6 673.5,583.3 674.0,587.0 674.5,590.8 675.0,594.4 675.5,597.3 676.0,598.9 676.5,600.0 677.0,602.1 677.5,603.8 678.0,604.5 678.5,606.1 679.0,607.1 679.5,609.3 680.0,609.3 680.5,608.8 681.0,608.6 681.5,606.9 682.0,607.2 682.5,606.9 683.0,608.4 683.5,607.8 684.0,607.9 684.5,608.5 685.0,609.1 685.5,609.6 686.0,610.2 686.5,608.9 687.0,607.9 687.5,607.4 688.0,607.0 688.5,605.1 689.0,605.3 689.5,605.5 690.0,604.9 690.5,605.0 691.0,605.7 691.5,604.7 692.0,605.2 692.5,605.4 693.0,605.2 693.5,606.1 694.0,605.6 694.5,606.7 695.0,605.8 695.5,606.0 696.0,606.8 696.5,605.0 697.0,604.3 697.5,605.7 698.0,606.1 698.5,606.8 699.0,607.0 699.5,607.0 700.0,606.2 700.5,604.7 701.0,605.7 701.5,605.9 702.0,604.3 702.5,603.4 703.0,602.0 703.5,600.9 704.0,600.3 704.5,599.6 705.0,599.6 705.5,598.4 706.0,597.9 706.5,597.0 707.0,595.1 707.5,593.6 708.0,591.5 708.5,589.5 709.0,586.2 709.5,580.0 710.0,567.9 710.5,545.9 711.0,509.6 711.5,458.6 712.0,398.1 712.5,337.2 713.0,286.8 713.5,253.3 714.0,238.9 714.5,239.8 715.0,256.9 715.5,293.3 716.0,346.1 716.5,406.9 717.0,465.6 717.5,512.8 718.0,545.1 718.5,563.2 719.0,571.7 719.5,575.7 720.0,576.8 720.5,576.3 721.0,576.0 721.5,574.9 722.0,574.9 722.5,576.9 723.0,579.3 723.5,581.9 724.0,584.1 724.5,586.5 725.0,588.5 725.5,589.5 726.0,590.6 726.5,590.7 727.0,591.0 727.5,590.4 728.0,589.4 728.5,587.3 729.0,583.2 729.5,575.4 730.0,560.1 730.5,533.3 731.0,492.8 731.5,441.0 732.0,386.0 732.5,336.9 733.0,300.6 733.5,281.5 734.0,277.6 734.5,287.2 735.0,313.3 735.5,355.8 736.0,409.3 736.5,464.5 737.0,513.0 737.5,548.6 738.0,570.9 738.5,583.2 739.0,589.0 739.5,592.7 740.0,595.3 740.5,597.0 741.0,599.5 741.5,600.9 742.0,602.2 742.5,603.4 743.0,603.9 743.5,604.5 744.0,604.6 744.5,604.2 745.0,603.9 745.5,603.6 746.0,603.6 746.5,602.5 747.0,601.5 747.5,600.6 748.0,601.7 748.5,602.3 749.0,602.6 749.5,603.5 750.0,603.4 750.5,602.8 751.0,603.9 751.5,604.5 752.0,604.7 752.5,604.2 753.0,606.0 753.5,606.3 754.0,605.0 754.5,604.4 755.0,604.5 755.5,604.2 756.0,605.8 756.5,606.3 757.0,606.2 757.5,605.6 758.0,605.4 758.5,605.8 759.0,605.2 759.5,604.9 760.0,605.5 760.5,605.3 761.0,604.7 761.5,605.3 762.0,604.9 762.5,604.7 763.0,603.8 763.5,604.6 764.0,603.7 764.5,603.1 765.0,603.6 765.5,603.0 766.0,603.5 766.5,602.0 767.0,601.7 767.5,601.7 768.0,599.3 768.5,596.5 769.0,592.1 769.5,586.2 770.0,577.7 770.5,565.9 771.0,551.6 771.5,535.0 772.0,517.9 772.5,502.9 773.0,492.0 773.5,487.7 774.0,489.3 774.5,494.6 775.0,501.3 775.5,506.5 776.0,509.1 776.5,509.7 777.0,509.5 777.5,510.0 778.0,512.1 778.5,516.0 779.0,521.5 779.5,526.8 780.0,530.9 780.5,533.8 781.0,534.6 781.5,533.7 782.0,531.8 782.5,529.6 783.0,527.7 783.5,526.2 784.0,525.6 784.5,525.6 785.0,525.9 785.5,525.9 786.0,526.3 786.5,526.4 787.0,526.0 787.5,525.4 788.0,525.3 788.5,524.8 789.0,525.0 789.5,525.2 790.0,525.0 790.5,525.3 791.0,525.0 791.5,524.6 792.0,524.6 792.5,523.7 793.0,523.0 793.5,521.9 794.0,520.3 794.5,518.7 795.0,515.9 795.5,511.3 796.0,504.5 796.5,494.6 797.0,481.2 797.5,463.9 798.0,442.2 798.5,416.0 799.0,385.6 799.5,353.3 800.0,321.8 800.5,295.8 801.0,280.6 801.5,284.0 802.0,304.2 802.5,334.5 803.0,369.4 803.5,404.8 804.0,438.2 804.5,468.1 805.0,494.4 805.5,516.3 806.0,534.3 806.5,549.0 807.0,560.8 807.5,569.5 808.0,576.3 808.5,582.1 809.0,586.5 809.5,589.8 810.0,592.2 810.5,594.2 811.0,595.7 811.5,597.0 812.0,598.0 812.5,598.0 813.0,598.7 813.5,598.6 814.0,599.2 814.5,600.2 815.0,599.5 815.5,598.4 816.0,596.6 816.5,594.6 817.0,590.6 817.5,584.9 818.0,576.0 818.5,563.5 819.0,547.7 819.5,529.0 820.0,509.2 820.5,491.2 821.0,478.3 821.5,473.8 822.0,478.6 822.5,491.6 823.0,510.1 823.5,530.1 824.0,549.2 824.5,565.4 825.0,578.1 825.5,587.2 826.0,593.8 826.5,597.4 827.0,600.3 827.5,600.8 828.0,601.8 828.5,601.1 829.0,602.6 829.5,602.2 830.0,602.2 830.5,601.4 831.0,600.9 831.5,600.9 832.0,600.8 832.5,599.7 833.0,599.1 833.5,598.2 834.0,596.6 834.5,593.5 835.0,586.7 835.5,572.9 836.0,548.1 836.5,512.5 837.0,470.9 837.5,430.8 838.0,400.1 838.5,383.0 839.0,378.4 839.5,383.2 840.0,399.9 840.5,430.1 841.0,469.9 841.5,511.4 842.0,546.9 842.5,571.3 843.0,584.8 843.5,591.5 844.0,594.6 844.5,594.8 845.0,595.8 845.5,596.3 846.0,596.4 846.5,596.2 847.0,596.0 847.5,593.6 848.0,588.1 848.5,575.4 849.0,553.2 849.5,519.3 850.0,477.5 850.5,436.0 851.0,402.9 851.5,382.5 852.0,375.7 852.5,378.0 853.0,392.3 853.5,420.1 854.0,459.2 854.5,501.8 855.0,539.5 855.5,566.3 856.0,581.9 856.5,588.8 857.0,590.9 857.5,590.5 858.0,587.8 858.5,581.7 859.0,572.4 859.5,559.0 860.0,541.7 860.5,521.9 861.0,500.5 861.5,481.1 862.0,467.3 862.5,461.6 863.0,466.3 863.5,479.9 864.0,498.7 864.5,519.5 865.0,538.3 865.5,554.4 866.0,566.1 866.5,573.1 867.0,576.8 867.5,577.5 868.0,576.4 868.5,573.7 869.0,572.1 869.5,569.8 870.0,560.3 870.5,539.7 871.0,507.0 871.5,465.5 872.0,423.9 872.5,390.6 873.0,371.1 873.5,365.1 874.0,368.4 874.5,383.7 875.0,413.8 875.5,455.0 876.0,500.2 876.5,539.5 877.0,568.4 877.5,585.2 878.0,594.0 878.5,598.1 879.0,598.8 879.5,599.9 880.0,600.8 880.5,602.7 881.0,603.8 881.5,603.9 882.0,605.4 882.5,605.2 883.0,605.9 883.5,607.0 884.0,606.7 884.5,607.4 885.0,607.6 885.5,607.8 886.0,607.3 886.5,606.5 887.0,605.6 887.5,605.9 888.0,604.6 888.5,605.3 889.0,605.0 889.5,603.2 890.0,602.7 890.5,602.8 891.0,601.9 891.5,600.6 892.0,599.9 892.5,597.4 893.0,592.2 893.5,581.7 894.0,563.7 894.5,538.6 895.0,508.7 895.5,479.4 896.0,456.2 896.5,441.0 897.0,435.1 897.5,435.6 898.0,443.1 898.5,459.9 899.0,485.5 899.5,515.3 900.0,544.5 900.5,568.0 901.0,584.7 901.5,594.2 902.0,599.5 902.5,602.8 903.0,604.6 903.5,604.2 904.0,604.4 904.5,604.1 905.0,604.7 905.5,603.3 906.0,603.8 906.5,604.0 907.0,602.9 907.5,603.2 908.0,603.5 908.5,604.0 909.0,603.8 909.5,602.1 910.0,600.8 910.5,598.2 911.0,594.3 911.5,588.8 912.0,580.5 912.5,569.6 913.0,555.9 913.5,539.7 914.0,522.4 914.5,506.4 915.0,492.4 915.5,484.4 916.0,483.6 916.5,489.5 917.0,500.2 917.5,512.8 918.0,525.0 918.5,535.2 919.0,542.2 919.5,546.5 920.0,547.5 920.5,545.5 921.0,542.2 921.5,541.2 922.0,546.5 922.5,553.6 923.0,559.9 923.5,565.9 924.0,570.7 924.5,574.6 925.0,577.7 925.5,579.7 926.0,580.6 926.5,580.7 927.0,579.2 927.5,577.6 928.0,575.9 928.5,574.3 929.0,574.7 929.5,578.0 930.0,581.4 930.5,584.8 931.0,587.8 931.5,591.0 932.0,594.1 932.5,596.6 933.0,599.2 933.5,600.0 934.0,601.8 934.5,603.3 935.0,604.3 935.5,606.4 936.0,607.0 936.5,607.2 937.0,607.2 937.5,608.5 938.0,608.7 938.5,609.8 939.0,610.5 939.5,610.2 940.0,611.3 940.5,610.1 941.0,610.4 941.5,608.8 942.0,609.6 942.5,609.6 943.0,609.0 943.5,608.1 944.0,607.5 944.5,605.8 945.0,606.2 945.5,607.1 946.0,607.1 946.5,606.6 947.0,605.5 947.5,606.3 948.0,607.5 948.5,607.3 949.0,608.1 949.5,608.1 950.0,606.9 950.5,607.1 951.0,607.1 951.5,608.4 952.0,607.4 952.5,607.7 953.0,606.8 953.5,607.5 954.0,606.6 954.5,606.4 955.0,606.1 955.5,605.3 956.0,604.1 956.5,601.5 957.0,598.1 957.5,593.7 958.0,586.4 958.5,576.4 959.0,563.3 959.5,546.6 960.0,527.8 960.5,508.7 961.0,492.7 961.5,483.1 962.0,482.1 962.5,490.1 963.0,505.3 963.5,523.4 964.0,542.4 964.5,559.4 965.0,573.9 965.5,584.7 966.0,592.3 966.5,598.5 967.0,602.5 967.5,603.5 968.0,605.6 968.5,605.2 969.0,605.7 969.5,606.2 970.0,607.6 970.5,608.0 971.0,608.0 971.5,607.2 972.0,606.6 972.5,606.7 973.0,607.0 973.5,609.5 974.0,608.3 974.5,608.3 975.0,609.2 975.5,609.5 976.0,609.8 976.5,609.8 977.0,607.9 977.5,606.5 978.0,605.4 978.5,606.6 979.0,604.9 979.5,603.7 980.0,602.0 980.5,600.1 981.0,599.3 981.5,599.3 982.0,598.7 982.5,598.8 983.0,599.7 983.5,600.7 984.0,600.9 984.5,602.9 985.0,603.9 985.5,604.4 986.0,605.2 986.5,604.1 987.0,604.6 987.5,604.2 988.0,606.0 988.5,605.7 989.0,604.4 989.5,603.0 990.0,603.0 990.5,601.0 991.0,600.6 991.5,597.7 992.0,594.1 992.5,589.5 993.0,584.5 993.5,578.8 994.0,571.5 994.5,562.6 995.0,552.9 995.5,542.2 996.0,531.7 996.5,523.7 997.0,527.1 997.5,535.4 998.0,543.8 998.5,551.5 999.0,557.8 999.5,562.4 1000.0,565.1 1000.5,566.2 1001.0,565.2 1001.5,563.0 1002.0,560.1 1002.5,557.8 1003.0,561.7 1003.5,568.1 1004.0,575.3 1004.5,581.2 1005.0,586.5 1005.5,591.5 1006.0,595.0 1006.5,597.7 1007.0,600.1 1007.5,602.0 1008.0,603.6 1008.5,604.1 1009.0,605.9 1009.5,607.3 1010.0,608.0 1010.5,608.5 1011.0,609.4 1011.5,609.1 1012.0,608.7 1012.5,608.4 1013.0,608.8 1013.5,607.9 1014.0,608.3 1014.5,607.2 1015.0,606.9 1015.5,607.4 1016.0,608.1 1016.5,606.6 1017.0,606.8 1017.5,606.8 1018.0,607.7 1018.5,607.8 1019.0,608.6 1019.5,609.9 1020.0,610.7 1020.5,610.6 1021.0,610.4 1021.5,610.5 1022.0,609.4 1022.5,608.7 1023.0,610.7 1023.5,611.2 1024.0,610.7 1024.5,611.6 1025.0,612.0 1025.5,612.9 1026.0,613.0 1026.5,612.2 1027.0,611.7 1027.5,611.2 1028.0,610.3 1028.5,610.6 1029.0,608.7 1029.5,608.6 1030.0,607.4 1030.5,606.6 1031.0,606.2 1031.5,606.7 1032.0,606.3 1032.5,605.3 1033.0,604.9 1033.5,603.7 1034.0,601.4 1034.5,599.9 1035.0,597.8 1035.5,594.7 1036.0,592.4 1036.5,590.0 1037.0,587.9 1037.5,587.0 1038.0,589.1 1038.5,592.1 1039.0,594.3 1039.5,596.1 1040.0,598.5 1040.5,600.2 1041.0,602.2 1041.5,603.4 1042.0,604.0 1042.5,605.6 1043.0,605.8 1043.5,606.7 1044.0,608.5 1044.5,607.8 1045.0,606.7 1045.5,609.0 1046.0,610.7 1046.5,610.6 1047.0,610.4 1047.5,610.1 1048.0,608.8 1048.5,609.2 1049.0,610.3 1049.5,610.8 1050.0,611.5 1050.5,610.9 1051.0,611.9 1051.5,611.9 1052.0,612.2 1052.5,612.7 1053.0,613.0 1053.5,614.2 1054.0,611.5 1054.5,608.5 1055.0,607.2 1055.5,607.0 1056.0,607.0 1056.5,606.5 1057.0,606.4 1057.5,606.9 1058.0,606.2 1058.5,607.4 1059.0,607.6 1059.5,606.4 1060.0,606.4 1060.5,605.1 1061.0,603.8 1061.5,602.7 1062.0,600.9 1062.5,598.6 1063.0,596.7 1063.5,594.3 1064.0,591.0 1064.5,585.8 1065.0,580.8 1065.5,575.5 1066.0,569.6 1066.5,563.0 1067.0,556.6 1067.5,551.4 1068.0,553.8 1068.5,559.6 1069.0,566.2 1069.5,572.8 1070.0,578.8 1070.5,583.8 1071.0,588.8 1071.5,592.8 1072.0,596.0 1072.5,598.6 1073.0,599.8 1073.5,602.5 1074.0,604.4 1074.5,605.5 1075.0,607.8 1075.5,607.7 1076.0,608.9 1076.5,609.1 1077.0,610.4 1077.5,612.2 1078.0,611.1 1078.5,610.1 1079.0,609.5 1079.5,609.6 1080.0,610.3 1080.5,609.7 1081.0,609.6 1081.5,609.4 1082.0,608.6 1082.5,610.0 1083.0,609.7 1083.5,609.2 1084.0,608.3 1084.5,606.3 1085.0,606.2 1085.5,605.3 1086.0,604.9 1086.5,604.3 1087.0,603.2 1087.5,600.9 1088.0,598.4 1088.5,594.6 1089.0,592.6 1089.5,589.7 1090.0,587.0 1090.5,584.2 1091.0,584.6 1091.5,587.3 1092.0,590.1 1092.5,592.6 1093.0,595.1 1093.5,597.6 1094.0,599.6 1094.5,601.9 1095.0,604.2 1095.5,604.7 1096.0,604.4 1096.5,605.5 1097.0,606.8 1097.5,606.2 1098.0,605.4 1098.5,606.3 1099.0,605.5 1099.5,605.7 1100.0,606.2 1100.5,606.5 1101.0,605.7 1101.5,605.8 1102.0,607.4 1102.5,607.6 1103.0,606.9 1103.5,607.2 1104.0,608.2 1104.5,609.1 1105.0,610.0 1105.5,609.8 1106.0,610.4 1106.5,609.7 1107.0,610.0 1107.5,609.1 1108.0,608.9 1108.5,608.2 1109.0,607.3 1109.5,607.9 1110.0,609.4 1110.5,608.8 1111.0,609.6 1111.5,609.6 1112.0,609.1 1112.5,610.3 1113.0,611.0 1113.5,611.3 1114.0,610.6 1114.5,610.3 1115.0,610.2 1115.5,609.0 1116.0,610.1 1116.5,611.1 1117.0,611.5 1117.5,611.6 1118.0,610.6 1118.5,610.0 1119.0,610.0 1119.5,608.3 1120.0,607.9 1120.5,606.3 1121.0,606.9 1121.5,605.9 1122.0,605.9 1122.5,606.3 1123.0,604.8 1123.5,604.4 1124.0,602.9 1124.5,603.7 1125.0,604.0 1125.5,604.1 1126.0,603.8 1126.5,604.4 1127.0,603.8 1127.5,604.9 1128.0,605.7 1128.5,605.9 1129.0,605.3 1129.5,604.6 1130.0,604.5 1130.5,605.0 1131.0,605.3 1131.5,606.1 1132.0,606.2 1132.5,604.8 1133.0,606.5 1133.5,607.7 1134.0,606.4 1134.5,606.9 1135.0,605.7 1135.5,604.9 1136.0,604.5 1136.5,603.3 1137.0,601.9 1137.5,599.7 1138.0,597.1 1138.5,594.7 1139.0,593.0 1139.5,591.1 1140.0,591.2 1140.5,592.7 1141.0,594.5 1141.5,596.2 1142.0,597.5 1142.5,600.1 1143.0,601.1 1143.5,602.4 1144.0,603.9 1144.5,603.8 1145.0,605.9 1145.5,605.7 1146.0,607.0 1146.5,607.2 1147.0,606.3 1147.5,608.3 1148.0,608.2 1148.5,607.4 1149.0,608.1 1149.5,606.9 1150.0,606.3 1150.5,605.4 1151.0,605.9 1151.5,605.6 1152.0,603.7 1152.5,602.8 1153.0,601.5 1153.5,598.4 1154.0,595.8 1154.5,592.9 1155.0,590.0 1155.5,584.9 1156.0,579.3 1156.5,572.9 1157.0,565.8 1157.5,558.4 1158.0,551.0 1158.5,545.2 1159.0,545.9 1159.5,551.8 1160.0,559.0 1160.5,566.3 1161.0,572.9 1161.5,579.3 1162.0,584.4 1162.5,588.9 1163.0,592.3 1163.5,595.3 1164.0,597.3 1164.5,598.5 1165.0,599.5 1165.5,600.4 1166.0,600.8 1166.5,601.6 1167.0,601.1 1167.5,601.5 1168.0,601.7 1168.5,602.0 1169.0,603.6 1169.5,604.6 1170.0,604.4 1170.5,604.8 1171.0,605.1 1171.5,605.0 1172.0,605.5 1172.5,605.0 1173.0,606.0 1173.5,607.0 1174.0,606.0 1174.5,606.4 1175.0,608.7 1175.5,607.2 1176.0,607.2 1176.5,608.1 1177.0,607.3 1177.5,608.1 1178.0,608.6 1178.5,609.7 1179.0,608.8 1179.5,609.0 1180.0,610.3 1180.5,610.3 1181.0,610.0 1181.5,611.0 1182.0,608.1 1182.5,608.0 1183.0,608.1 1183.5,607.9 1184.0,608.4 1184.5,607.3 1185.0,608.0 1185.5,607.1 1186.0,609.0 1186.5,610.9 1187.0,610.9 1187.5,611.0 1188.0,610.0 1188.5,609.9 1189.0,609.3 1189.5,608.2 1190.0,607.4 1190.5,604.9 1191.0,603.7 1191.5,602.8 1192.0,600.9 1192.5,600.5 1193.0,599.4 1193.5,598.4 1194.0,597.1 1194.5,594.9 1195.0,593.0 1195.5,590.1 1196.0,586.3 1196.5,582.2 1197.0,577.9 1197.5,574.2 1198.0,572.4 1198.5,575.9 1199.0,580.1 1199.5,583.7 1200.0,588.4 1200.5,591.7 1201.0,594.6 1201.5,597.1 1202.0,599.5 1202.5,601.4 1203.0,602.1 1203.5,603.6 1204.0,604.9 1204.5,604.1 1205.0,604.3 1205.5,604.3 1206.0,603.4 1206.5,602.2 1207.0,601.1 1207.5,600.3 1208.0,599.1 1208.5,596.5 1209.0,595.3 1209.5,593.9 1210.0,592.5 1210.5,592.8 1211.0,593.7 1211.5,595.5 1212.0,597.5 1212.5,599.1 1213.0,601.9 1213.5,604.0 1214.0,605.4 1214.5,605.8 1215.0,605.6 1215.5,606.3 1216.0,607.7 1216.5,607.7 1217.0,608.4 1217.5,608.2 1218.0,608.7 1218.5,607.8 1219.0,608.2 1219.5,607.1 1220.0,605.4 1220.5,605.9 1221.0,606.5 1221.5,608.5 1222.0,608.7 1222.5,607.5 1223.0,606.9 1223.5,605.4 1224.0,606.5 1224.5,607.5 1225.0,607.2 1225.5,606.7 1226.0,605.4 1226.5,605.2 1227.0,604.2 1227.5,604.1 1228.0,605.5 1228.5,605.0 1229.0,604.7 1229.5,605.8 1230.0,606.1 1230.5,605.8 1231.0,607.3 1231.5,606.5 1232.0,606.5 1232.5,605.9 1233.0,604.6 1233.5,604.6 1234.0,604.0 1234.5,603.0 1235.0,603.8 1235.5,604.1 1236.0,605.1 1236.5,605.1 1237.0,605.5 1237.5,605.3 1238.0,602.7 1238.5,602.1 1239.0,601.0 1239.5,599.4 1240.0,597.8 1240.5,596.3 1241.0,596.0 1241.5,596.9 1242.0,598.0 1242.5,598.4 1243.0,599.3 1243.5,600.7 1244.0,602.2 1244.5,603.1 1245.0,604.6 1245.5,605.4 1246.0,605.8 1246.5,606.1 1247.0,607.0 1247.5,608.4 1248.0,608.6 1248.5,608.0 1249.0,607.7 1249.5,607.8 1250.0,606.6 1250.5,606.1 1251.0,606.9 1251.5,607.9 1252.0,608.8 1252.5,608.4 1253.0,609.8 1253.5,609.3 1254.0,609.5 1254.5,611.3 1255.0,610.0 1255.5,610.4 1256.0,609.7 1256.5,608.3 1257.0,607.2 1257.5,607.2 1258.0,607.7 1258.5,605.7 1259.0,605.8 1259.5,606.1 1260.0,606.6 1260.5,607.1 1261.0,606.8 1261.5,607.6 1262.0,608.2 1262.5,608.7 1263.0,608.2 1263.5,608.8 1264.0,609.1 1264.5,608.6 1265.0,607.2 1265.5,608.6 1266.0,607.4 1266.5,607.7 1267.0,607.4 1267.5,606.5 1268.0,606.0 1268.5,605.6 1269.0,605.4 1269.5,605.4 1270.0,605.3 1270.5,605.6 1271.0,605.1 1271.5,605.1 1272.0,605.2 1272.5,604.3 1273.0,604.3 1273.5,602.9 1274.0,602.9 1274.5,602.8 1275.0,601.1 1275.5,599.9 1276.0,598.7 1276.5,598.3 1277.0,597.9 1277.5,597.8 1278.0,598.5 1278.5,600.3 1279.0,600.9 1279.5,602.6 1280.0,604.6 1280.5,606.5 1281.0,606.1 1281.5,606.5 1282.0,606.9 1282.5,607.7 1283.0,607.8 1283.5,608.3 1284.0,608.2 1284.5,607.9 1285.0,606.8 1285.5,605.6 1286.0,606.5 1286.5,605.7 1287.0,604.6 1287.5,604.2 1288.0,603.4 1288.5,603.7 1289.0,602.2 1289.5,600.9 1290.0,600.1 1290.5,598.7 1291.0,598.9 1291.5,600.1 1292.0,602.1 1292.5,602.8 1293.0,603.7 1293.5,606.2 1294.0,605.4 1294.5,606.4 1295.0,607.1 1295.5,607.8 1296.0,609.9 1296.5,610.2 1297.0,610.2 1297.5,610.9 1298.0,609.3 1298.5,610.7 1299.0,612.0 1299.5,612.2 1300.0,611.7 1300.5,612.0 1301.0,609.8 1301.5,608.9 1302.0,608.8 1302.5,609.9 1303.0,608.5 1303.5,607.6 1304.0,606.0 1304.5,603.9 1305.0,602.9 1305.5,603.4 1306.0,602.8 1306.5,601.7 1307.0,600.0 1307.5,597.6 1308.0,595.2 1308.5,593.3 1309.0,591.2 1309.5,588.3 1310.0,584.3 1310.5,581.3 1311.0,578.8 1311.5,581.0 1312.0,584.5 1312.5,587.7 1313.0,591.1 1313.5,594.1 1314.0,596.5 1314.5,599.0 1315.0,601.1 1315.5,602.8 1316.0,603.4 1316.5,603.7 1317.0,603.6 1317.5,602.5 1318.0,601.2 1318.5,600.7 1319.0,597.4 1319.5,595.7 1320.0,593.8 1320.5,591.3 1321.0,588.9 1321.5,586.0 1322.0,582.5 1322.5,578.3 1323.0,574.5 1323.5,573.4 1324.0,574.7 1324.5,575.3 1325.0,576.3 1325.5,575.6 1326.0,573.7 1326.5,570.5 1327.0,566.7 1327.5,561.1 1328.0,554.1 1328.5,546.7 1329.0,539.5 1329.5,534.0 1330.0,540.8 1330.5,549.6 1331.0,559.0 1331.5,568.2 1332.0,576.1 1332.5,582.3 1333.0,587.6 1333.5,591.0 1334.0,595.1 1334.5,598.4 1335.0,600.9 1335.5,602.3 1336.0,603.1 1336.5,604.0 1337.0,603.3 1337.5,602.9 1338.0,601.6 1338.5,600.6 1339.0,599.7 1339.5,597.5 1340.0,596.1 1340.5,593.7 1341.0,590.6 1341.5,587.6 1342.0,585.0 1342.5,582.7 1343.0,582.4 1343.5,585.3 1344.0,588.3 1344.5,590.8 1345.0,593.5 1345.5,595.5 1346.0,597.9 1346.5,599.6 1347.0,600.6 1347.5,601.3 1348.0,601.9 1348.5,602.2 1349.0,602.8 1349.5,603.5 1350.0,603.5 1350.5,601.9 1351.0,600.9 1351.5,598.3 1352.0,595.3 1352.5,592.6 1353.0,589.3 1353.5,585.9 1354.0,581.6 1354.5,578.2 1355.0,575.1 1355.5,576.5 1356.0,579.6 1356.5,583.9 1357.0,587.9 1357.5,591.5 1358.0,594.4 1358.5,597.7 1359.0,599.1 1359.5,601.2 1360.0,602.8 1360.5,603.5 1361.0,604.3 1361.5,604.3 1362.0,604.2 1362.5,605.4 1363.0,606.4 1363.5,606.3 1364.0,606.2 1364.5,606.3 1365.0,606.0 1365.5,603.9 1366.0,601.6 1366.5,599.7 1367.0,597.8 1367.5,595.0 1368.0,592.7 1368.5,589.7 1369.0,587.4 1369.5,584.5 1370.0,583.6 1370.5,585.4 1371.0,587.5 1371.5,590.3 1372.0,592.9 1372.5,594.8 1373.0,598.1 1373.5,599.5 1374.0,600.4 1374.5,601.8 1375.0,603.8 1375.5,603.4 1376.0,604.2 1376.5,603.4 1377.0,602.9 1377.5,602.4 1378.0,603.0 1378.5,603.9 1379.0,604.1 1379.5,601.8 1380.0,600.7 1380.5,598.2 1381.0,597.4 1381.5,596.1 1382.0,593.4 1382.5,589.8 1383.0,584.2 1383.5,578.1 1384.0,571.2 1384.5,563.4 1385.0,555.1 1385.5,547.1 1386.0,543.4 1386.5,548.9 1387.0,556.2 1387.5,562.9 1388.0,569.2 1388.5,574.3 1389.0,577.2 1389.5,579.1 1390.0,579.2 1390.5,578.0 1391.0,575.5 1391.5,571.9 1392.0,567.3 1392.5,562.6 1393.0,559.4 1393.5,563.6 1394.0,569.2 1394.5,575.0 1395.0,581.1 1395.5,585.7 1396.0,589.8 1396.5,593.6 1397.0,596.2 1397.5,599.4 1398.0,601.4 1398.5,603.8 1399.0,606.0 1399.5,606.1 1400.0,607.3 1400.5,607.4 1401.0,609.0 1401.5,608.5 1402.0,608.2 1402.5,609.0 1403.0,610.0 1403.5,610.9 1404.0,610.2 1404.5,610.4 1405.0,609.3 1405.5,607.0 1406.0,608.0 1406.5,608.2 1407.0,606.9 1407.5,606.4 1408.0,604.3 1408.5,601.6 1409.0,599.4 1409.5,596.3 1410.0,592.8 1410.5,588.0 1411.0,582.9 1411.5,577.3 1412.0,570.7 1412.5,563.9 1413.0,557.6 1413.5,552.4 1414.0,555.1 1414.5,560.6 1415.0,567.0 1415.5,572.9 1416.0,578.2 1416.5,582.9 1417.0,586.9 1417.5,590.3 1418.0,593.0 1418.5,594.0 1419.0,595.3 1419.5,595.6 1420.0,595.4 1420.5,595.8 1421.0,596.8 1421.5,598.1 1422.0,599.5 1422.5,600.3 1423.0,602.1 1423.5,603.4 1424.0,603.9 1424.5,605.2 1425.0,604.2 1425.5,603.3 1426.0,603.8 1426.5,605.3 1427.0,607.5 1427.5,608.0 1428.0,606.7 1428.5,607.6 1429.0,606.4 1429.5,606.8 1430.0,608.7 1430.5,609.3 1431.0,609.2 1431.5,608.5 1432.0,607.7 1432.5,606.8 1433.0,607.3 1433.5,608.4 1434.0,607.3 1434.5,607.1 1435.0,607.4 1435.5,606.4 1436.0,606.6 1436.5,605.5 1437.0,605.4 1437.5,603.8 1438.0,601.1 1438.5,599.2 1439.0,597.8 1439.5,596.4 1440.0,594.9 1440.5,594.3 1441.0,594.9 1441.5,597.0 1442.0,598.7 1442.5,601.0 1443.0,603.4 1443.5,605.4 1444.0,605.7 1444.5,606.5 1445.0,607.0 1445.5,608.9 1446.0,608.0 1446.5,607.9 1447.0,607.8 1447.5,607.7 1448.0,607.7 1448.5,607.1 1449.0,607.3 1449.5,605.8 1450.0,603.8 1450.5,603.0 1451.0,602.6 1451.5,600.8 1452.0,600.3 1452.5,597.9 1453.0,596.7 1453.5,596.1 1454.0,597.1 1454.5,598.8 1455.0,600.1 1455.5,602.7 1456.0,604.0 1456.5,605.8 1457.0,607.0 1457.5,607.2 1458.0,607.4 1458.5,608.8 1459.0,608.9 1459.5,609.4 1460.0,609.4 1460.5,609.9 1461.0,608.8 1461.5,608.6 1462.0,608.0 1462.5,607.6 1463.0,605.9 1463.5,606.5 1464.0,606.0 1464.5,606.2 1465.0,606.2 1465.5,607.6 1466.0,606.6 1466.5,606.0 1467.0,605.4 1467.5,604.4 1468.0,603.6 1468.5,603.9 1469.0,602.0 1469.5,601.2 1470.0,599.5 1470.5,597.7 1471.0,594.8 1471.5,591.6 1472.0,588.0 1472.5,583.1 1473.0,577.5 1473.5,571.0 1474.0,564.2 1474.5,556.9 1475.0,549.8 1475.5,545.6 1476.0,550.2 1476.5,556.7 1477.0,564.0 1477.5,570.9 1478.0,577.3 1478.5,582.5 1479.0,587.1 1479.5,591.4 1480.0,594.8 1480.5,597.5 1481.0,599.8 1481.5,601.6 1482.0,602.1 1482.5,603.0 1483.0,604.0 1483.5,605.8 1484.0,607.1 1484.5,606.8 1485.0,606.4 1485.5,606.0 1486.0,606.7 1486.5,607.5 1487.0,609.8 1487.5,608.5 1488.0,607.0 1488.5,606.7 1489.0,605.7 1489.5,605.5 1490.0,605.9 1490.5,604.9 1491.0,604.5 1491.5,603.2 1492.0,602.5 1492.5,601.1 1493.0,599.3 1493.5,597.5 1494.0,594.5 1494.5,592.0 1495.0,589.6 1495.5,587.3 1496.0,584.6 1496.5,582.5 1497.0,584.4 1497.5,587.6 1498.0,590.3 1498.5,593.7 1499.0,595.9 1499.5,597.9 1500.0,598.7 1500.5,600.7 1501.0,601.8 1501.5,602.1 1502.0,601.4 1502.5,602.8 1503.0,602.2 1503.5,602.3 1504.0,601.1 1504.5,600.8 1505.0,598.8 1505.5,596.2 1506.0,593.1 1506.5,589.7 1507.0,586.3 1507.5,582.8 1508.0,579.0 1508.5,575.4 1509.0,573.7 1509.5,576.4 1510.0,580.2 1510.5,583.7 1511.0,588.0 1511.5,591.5 1512.0,594.5 1512.5,597.5 1513.0,600.3 1513.5,601.3 1514.0,603.7 1514.5,603.4 1515.0,605.2 1515.5,606.0 1516.0,605.7 1516.5,605.8 1517.0,605.7 1517.5,605.7 1518.0,604.2 1518.5,601.9 1519.0,600.6 1519.5,598.4 1520.0,595.5 1520.5,593.0 1521.0,590.1 1521.5,587.8 1522.0,586.2 1522.5,587.3 1523.0,589.4 1523.5,592.7 1524.0,594.7 1524.5,597.0 1525.0,598.3 1525.5,600.1 1526.0,600.9 1526.5,601.3 1527.0,601.2 1527.5,602.5 1528.0,602.4 1528.5,603.1 1529.0,604.8 1529.5,606.7 1530.0,608.0 1530.5,606.7 1531.0,607.8 1531.5,607.1 1532.0,606.7 1532.5,607.7 1533.0,606.2 1533.5,605.3 1534.0,605.7 1534.5,604.0 1535.0,604.5 1535.5,603.4 1536.0,604.2 1536.5,603.6 1537.0,603.1 1537.5,603.1 1538.0,603.0 1538.5,604.3 1539.0,605.9 1539.5,607.3 1540.0,606.8 1540.5,606.7 1541.0,606.9 1541.5,606.0 1542.0,606.8 1542.5,606.7 1543.0,608.1 1543.5,607.7 1544.0,606.8 1544.5,605.7 1545.0,605.7 1545.5,605.9 1546.0,607.6 1546.5,605.6 1547.0,604.4 1547.5,602.6 1548.0,600.9 1548.5,600.2 1549.0,600.9 1549.5,600.1 1550.0,599.1 1550.5,597.1 1551.0,598.1 1551.5,599.1 1552.0,600.2 1552.5,602.3 1553.0,603.4" fill="none" stroke="#F26D21" stroke-width="4.6" stroke-linejoin="round" stroke-linecap="butt"/>
<path fill="#000" fill-rule="evenodd" d="M147.3,23.8H1557.4V1166.7H147.3Z M156.3,33.2V1157.8H1549.5V33.2Z"/>
<rect x="230.4" y="1139.6" width="8" height="19" fill="#000"/>
<rect x="395.3" y="1139.6" width="8" height="19" fill="#000"/>
<rect x="560.2" y="1139.6" width="8" height="19" fill="#000"/>
<rect x="725.1" y="1139.6" width="8" height="19" fill="#000"/>
<rect x="890.0" y="1139.6" width="8" height="19" fill="#000"/>
<rect x="1054.9" y="1139.6" width="8" height="19" fill="#000"/>
<rect x="1219.8" y="1139.6" width="8" height="19" fill="#000"/>
<rect x="1384.7" y="1139.6" width="8" height="19" fill="#000"/>
<g font-size="77" text-anchor="middle" fill="#000">
<text x="234.1" y="1245.2">10</text>
<text x="399.0" y="1245.2">20</text>
<text x="564.0" y="1245.2">30</text>
<text x="728.9" y="1245.2">40</text>
<text x="893.8" y="1245.2">50</text>
<text x="1058.6" y="1245.2">60</text>
<text x="1223.5" y="1245.2">70</text>
<text x="1388.4" y="1245.2">80</text>
<text x="1553.3" y="1245.2">90</text>
</g>
<text font-size="74.2" fill="#000" text-anchor="middle" transform="translate(74.3,597.4) rotate(-90) scale(1,1.05)">Intensity (a.u.)</text>
<text font-size="71" fill="#000" transform="translate(766.6,1338) scale(1.07,1)">2θ (º)</text>
<g fill="#000">
<text font-size="50.13" transform="translate(296.07,133.84) scale(0.988,1)">*</text>
<text font-size="70.59" transform="translate(321.31,125.41) scale(1.090,1)">-</text>
<text transform="translate(346.6,127.2) scale(1,1.05)" font-size="48" >PMMA</text>
<text class="dj" font-size="45.21" transform="translate(524.43,127.50) scale(0.928,1)">♥</text>
<text font-size="70.59" transform="translate(566.13,125.41) scale(1.079,1)">-</text>
<text transform="translate(592.6,127.2) scale(1,1.05)" font-size="48" >Cr</text>
<text transform="translate(647.0,139.4) scale(1,1.05)" font-size="34" >3</text>
<text transform="translate(664.2,127.2) scale(1,1.05)" font-size="48" >C</text>
<text transform="translate(698.2,139.4) scale(1,1.05)" font-size="34" >2</text>
<text class="dj" font-size="43.56" transform="translate(739.74,126.80) scale(1.098,1)">♣</text>
<text font-size="70.59" transform="translate(784.25,125.41) scale(1.073,1)">-</text>
<text transform="translate(809.9,127.2) scale(1,1.05)" font-size="48" >SiO</text>
<text transform="translate(887.6,139.4) scale(1,1.05)" font-size="34" >2</text>
<text font-size="56.49" transform="translate(927.90,130.11) scale(1.004,1)">■</text>
<text font-size="70.59" transform="translate(962.87,125.41) scale(1.106,1)">-</text>
<text transform="translate(989.7,127.2) scale(1,1.05)" font-size="48" >Cr</text>
<text transform="translate(1044.6,139.4) scale(1,1.05)" font-size="34" >7</text>
<text transform="translate(1061.8,127.2) scale(1,1.05)" font-size="48" >C</text>
<text transform="translate(1095.6,139.4) scale(1,1.05)" font-size="34" >3</text>
<text font-size="56.03" transform="translate(1143.22,126.84) scale(1.063,1)">♦</text>
<text font-size="70.59" transform="translate(1181.25,125.41) scale(1.073,1)">-</text>
<text transform="translate(1206.2,127.2) scale(1,1.05)" font-size="48" >NiCr</text>
<text class="dj" font-size="45.62" transform="translate(1348.83,126.80) scale(1.160,1)">♠</text>
<text font-size="70.59" transform="translate(1393.18,126.91) scale(0.981,1)">-</text>
<text transform="translate(1416.0,127.2) scale(1,1.05)" font-size="48" >Fe</text>
<text transform="translate(1466.2,139.4) scale(1,1.05)" font-size="34" >2</text>
<text transform="translate(1482.2,127.2) scale(1,1.05)" font-size="48" >O</text>
<text transform="translate(1519.8,139.4) scale(1,1.05)" font-size="34" >3</text>
</g>
<text transform="translate(1197.3,420.4) scale(1,1.05)" font-size="47.6" fill="#F26D21">CS:CC-NC=1:9</text>
<text transform="translate(1197.3,738.4) scale(1,1.05)" font-size="47.6" fill="#2A6AA3">CS:CC-NC=2:8</text>
<text transform="translate(1197.3,999.3) scale(1,1.05)" font-size="47.6" fill="#1B7D3B">CS:CC-NC=3:7</text>
<g fill="#000">
<text font-size="69.87" transform="translate(248.90,470.36) scale(0.859,1)">*</text>
<text class="dj" font-size="43.56" transform="translate(518.04,374.30) scale(1.139,1)">♣</text>
<text class="dj" font-size="43.15" transform="translate(589.94,560.50) scale(0.982,1)">♥</text>
<text class="dj" font-size="43.42" transform="translate(636.94,491.70) scale(0.976,1)">♥</text>
<text class="dj" font-size="43.84" transform="translate(711.24,237.00) scale(0.966,1)">♥</text>
<text font-size="56.70" transform="translate(752.60,484.62) scale(1.000,1)">■</text>
<text font-size="55.70" transform="translate(785.85,273.14) scale(1.102,1)">♦</text>
<text class="dj" font-size="43.15" transform="translate(829.94,362.50) scale(0.982,1)">♥</text>
<text class="dj" font-size="43.15" transform="translate(889.44,430.50) scale(0.982,1)">♥</text>
<text class="dj" font-size="43.84" transform="translate(943.74,476.00) scale(0.966,1)">♥</text>
<text class="dj" font-size="43.84" transform="translate(975.20,519.60) scale(1.211,1)">♠</text>
<text class="dj" font-size="43.84" transform="translate(1138.94,530.50) scale(0.966,1)">♥</text>
<text class="dj" font-size="43.84" transform="translate(1318.64,519.00) scale(0.966,1)">♥</text>
<text class="dj" font-size="44.52" transform="translate(1381.34,535.50) scale(0.951,1)">♥</text>
<text class="dj" font-size="44.52" transform="translate(1455.44,533.00) scale(0.951,1)">♥</text>
</g>
</svg></body></html>
